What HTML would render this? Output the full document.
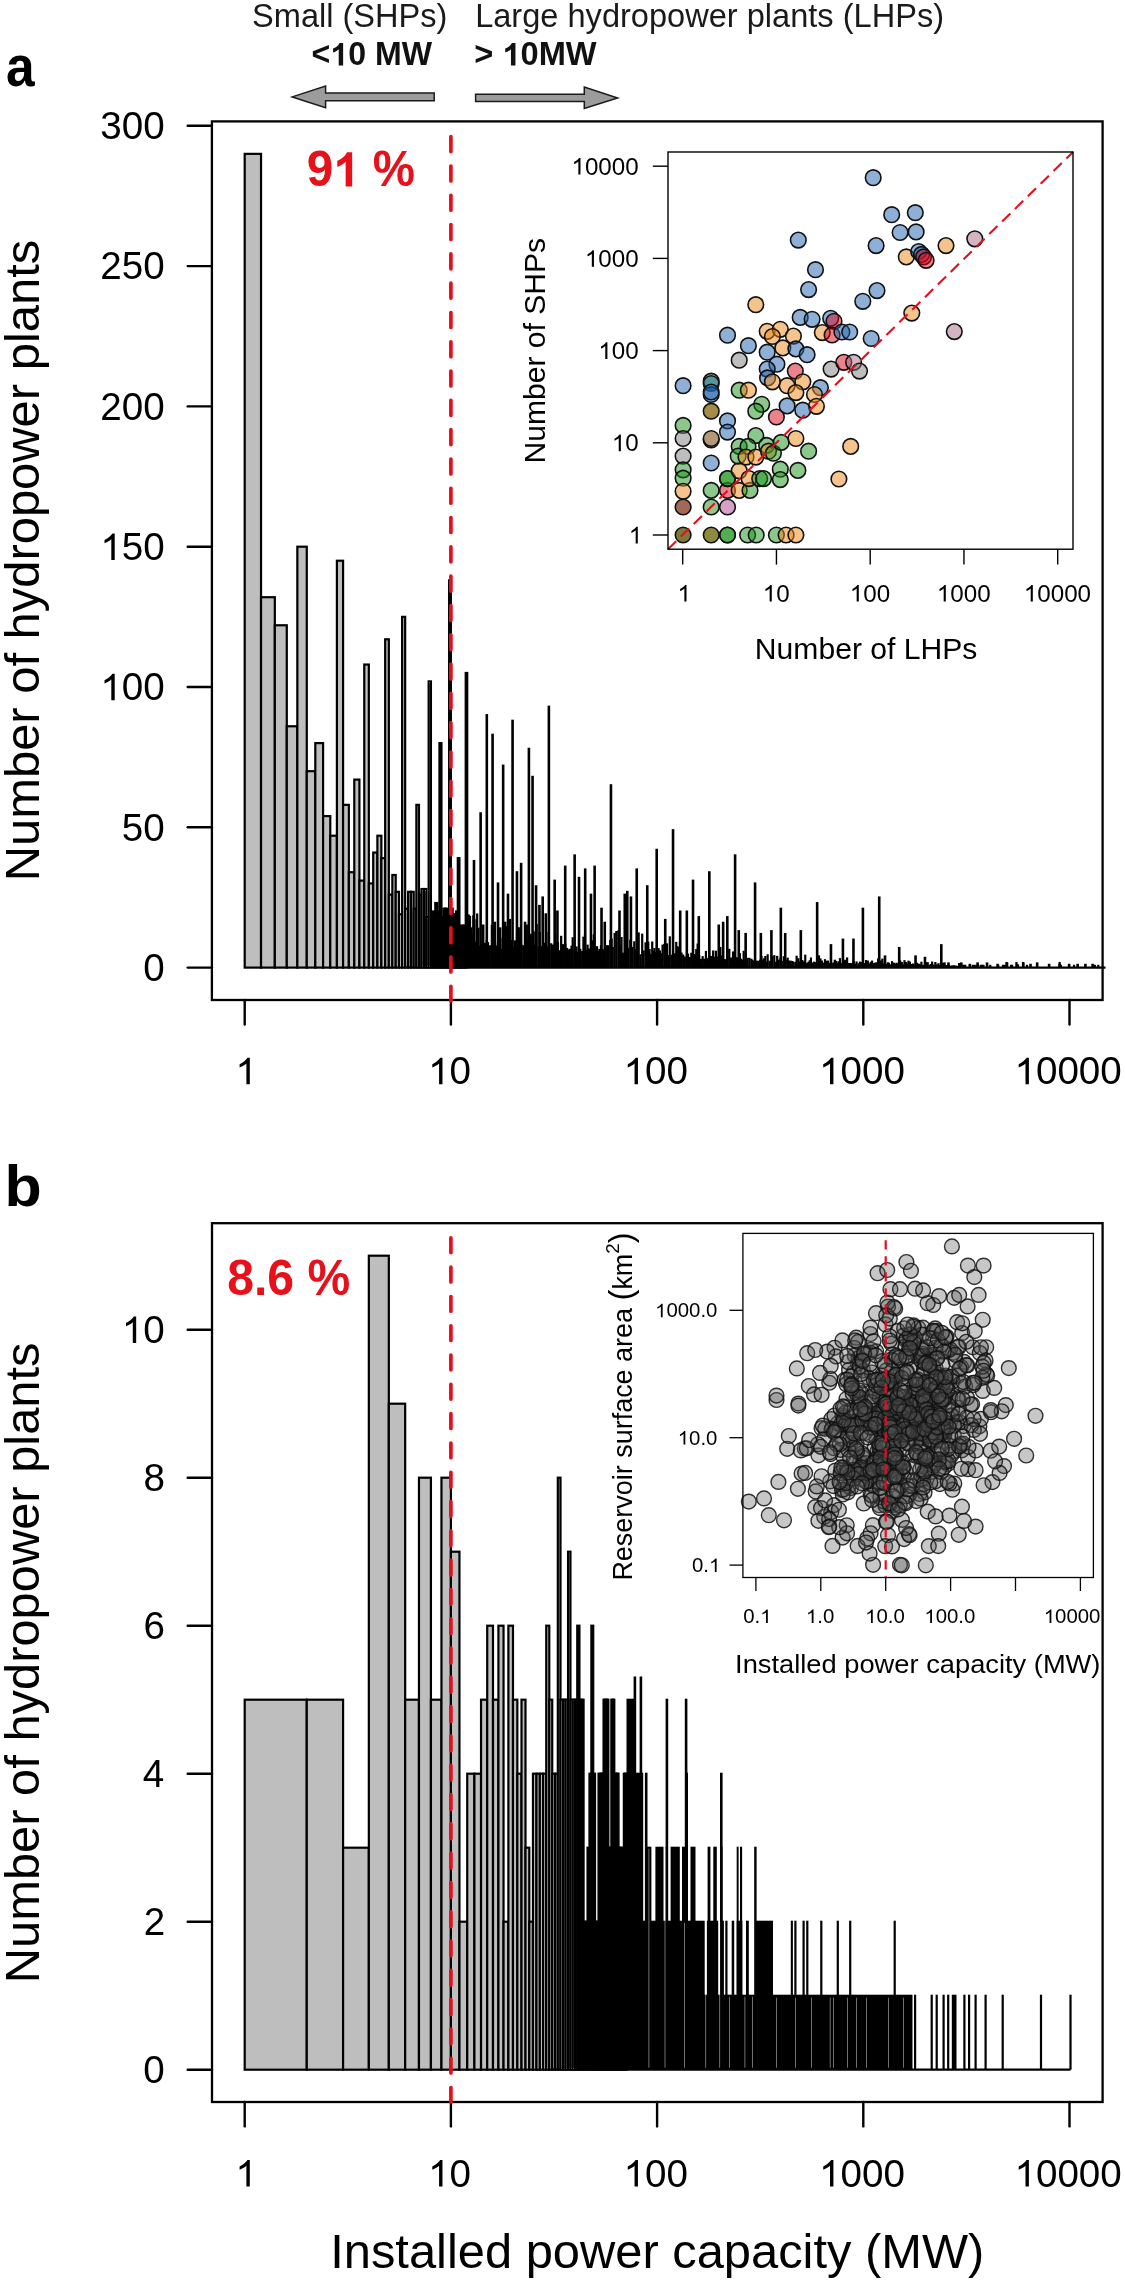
<!DOCTYPE html><html><head><meta charset="utf-8"><title>Hydropower plants</title><style>html,body{margin:0;padding:0;background:#fff}svg{display:block;will-change:transform}</style></head><body><svg width="1125" height="2280" viewBox="0 0 1125 2280" font-family="Liberation Sans, sans-serif">
<rect width="1125" height="2280" fill="#fff"/>
<g fill="#bebebe" stroke="#000" stroke-width="2.2"><rect x="244.7" y="153.86" width="16.33" height="813.74"/><rect x="261.03" y="597.21" width="13.8" height="370.39"/><rect x="274.83" y="625.27" width="11.96" height="342.33"/><rect x="286.79" y="726.28" width="10.55" height="241.32"/><rect x="297.34" y="546.7" width="9.44" height="420.9"/><rect x="306.77" y="771.18" width="8.54" height="196.42"/><rect x="315.31" y="743.12" width="7.79" height="224.48"/><rect x="323.1" y="816.08" width="7.17" height="151.52"/><rect x="330.27" y="835.72" width="6.64" height="131.88"/><rect x="336.9" y="560.73" width="6.18" height="406.87"/><rect x="343.08" y="804.85" width="5.78" height="162.75"/><rect x="348.86" y="872.2" width="5.43" height="95.4"/><rect x="354.29" y="779.6" width="5.12" height="188"/><rect x="359.41" y="880.61" width="4.84" height="86.99"/><rect x="364.25" y="664.55" width="4.59" height="303.05"/><rect x="368.84" y="883.42" width="4.37" height="84.18"/><rect x="373.21" y="852.55" width="4.17" height="115.05"/><rect x="377.38" y="835.72" width="3.98" height="131.88"/><rect x="381.36" y="858.17" width="3.81" height="109.43"/><rect x="385.17" y="639.3" width="3.66" height="328.3"/><rect x="388.83" y="894.64" width="3.51" height="72.96"/><rect x="392.34" y="875" width="3.38" height="92.6"/><rect x="395.72" y="891.84" width="3.26" height="75.76"/><rect x="398.98" y="914.29" width="3.14" height="53.31"/><rect x="402.12" y="616.85" width="3.04" height="350.75"/><rect x="405.15" y="908.67" width="2.94" height="58.93"/><rect x="408.09" y="891.84" width="2.84" height="75.76"/><rect x="410.93" y="891.84" width="2.76" height="75.76"/><rect x="413.69" y="908.67" width="2.67" height="58.93"/><rect x="416.36" y="804.85" width="2.6" height="162.75"/><rect x="418.96" y="894.64" width="2.52" height="72.96"/><rect x="421.48" y="889.03" width="2.45" height="78.57"/><rect x="423.94" y="889.03" width="2.39" height="78.57"/><rect x="426.32" y="917.09" width="2.33" height="50.51"/><rect x="428.65" y="681.39" width="2.27" height="286.21"/><rect x="430.92" y="917.09" width="2.21" height="50.51"/><rect x="433.13" y="911.48" width="2.16" height="56.12"/><rect x="435.29" y="903.06" width="2.11" height="64.54"/><rect x="437.39" y="911.48" width="2.06" height="56.12"/><rect x="439.45" y="743.12" width="2.01" height="224.48"/><rect x="441.46" y="917.09" width="1.97" height="50.51"/><rect x="443.43" y="908.67" width="1.93" height="58.93"/><rect x="445.36" y="908.67" width="1.89" height="58.93"/><rect x="447.24" y="919.9" width="1.85" height="47.7"/><rect x="449.09" y="580.37" width="1.81" height="387.23"/><rect x="450.9" y="908.67" width="1.77" height="58.93"/><rect x="452.67" y="914.29" width="1.74" height="53.31"/><rect x="454.41" y="922.7" width="1.71" height="44.9"/><rect x="456.12" y="911.48" width="1.67" height="56.12"/><rect x="457.79" y="858.17" width="1.64" height="109.43"/><rect x="459.44" y="931.12" width="1.61" height="36.48"/><rect x="461.05" y="925.51" width="1.59" height="42.09"/><rect x="462.63" y="931.12" width="1.56" height="36.48"/><rect x="464.19" y="925.51" width="1.53" height="42.09"/><rect x="465.72" y="672.97" width="1.51" height="294.63"/></g>
<g fill="#000"><rect x="465.9" y="942.85" width="2.2" height="24.75"/><rect x="467.55" y="914.41" width="2.2" height="53.19"/><rect x="468.92" y="915.77" width="2.2" height="51.83"/><rect x="469.95" y="945.09" width="2.2" height="22.51"/><rect x="471.04" y="934.64" width="2.2" height="32.96"/><rect x="472.17" y="915.32" width="2.2" height="52.28"/><rect x="474.12" y="941.66" width="2.2" height="25.94"/><rect x="476.09" y="913.43" width="2.2" height="54.17"/><rect x="477.38" y="927.66" width="2.2" height="39.94"/><rect x="478.69" y="945.85" width="2.2" height="21.75"/><rect x="480.27" y="943.54" width="2.2" height="24.06"/><rect x="481.82" y="929.8" width="2.2" height="37.8"/><rect x="483.03" y="943.05" width="2.2" height="24.55"/><rect x="484.34" y="942.84" width="2.2" height="24.76"/><rect x="485.64" y="939.84" width="2.2" height="27.76"/><rect x="486.88" y="942.14" width="2.2" height="25.46"/><rect x="488.76" y="945.26" width="2.2" height="22.34"/><rect x="490.74" y="924.79" width="2.2" height="42.81"/><rect x="492.5" y="923.84" width="2.2" height="43.76"/><rect x="493.54" y="939.76" width="2.2" height="27.84"/><rect x="495.11" y="945.43" width="2.2" height="22.17"/><rect x="496.8" y="942.32" width="2.2" height="25.28"/><rect x="498.26" y="938.04" width="2.2" height="29.56"/><rect x="499.73" y="948.82" width="2.2" height="18.78"/><rect x="501.44" y="937.78" width="2.2" height="29.82"/><rect x="503.26" y="927.13" width="2.2" height="40.47"/><rect x="504.93" y="926.14" width="2.2" height="41.46"/><rect x="506.09" y="932.83" width="2.2" height="34.77"/><rect x="507.86" y="930.02" width="2.2" height="37.58"/><rect x="509.25" y="949.22" width="2.2" height="18.38"/><rect x="510.7" y="940.03" width="2.2" height="27.57"/><rect x="512.52" y="947.16" width="2.2" height="20.44"/><rect x="513.94" y="940.34" width="2.2" height="27.26"/><rect x="515.9" y="932.22" width="2.2" height="35.38"/><rect x="517.13" y="927.58" width="2.2" height="40.02"/><rect x="518.72" y="935.25" width="2.2" height="32.35"/><rect x="520.14" y="944.48" width="2.2" height="23.12"/><rect x="522.09" y="945.16" width="2.2" height="22.44"/><rect x="523.71" y="950.37" width="2.2" height="17.23"/><rect x="525.61" y="941.4" width="2.2" height="26.2"/><rect x="527.4" y="946.74" width="2.2" height="20.86"/><rect x="528.51" y="950.49" width="2.2" height="17.11"/><rect x="529.57" y="933.75" width="2.2" height="33.85"/><rect x="530.91" y="936.3" width="2.2" height="31.3"/><rect x="532.07" y="930.97" width="2.2" height="36.63"/><rect x="533.09" y="944.71" width="2.2" height="22.89"/><rect x="534.24" y="931.41" width="2.2" height="36.19"/><rect x="535.6" y="924.12" width="2.2" height="43.48"/><rect x="537.6" y="946.37" width="2.2" height="21.23"/><rect x="538.68" y="931.9" width="2.2" height="35.7"/><rect x="539.95" y="949.93" width="2.2" height="17.67"/><rect x="540.97" y="946.09" width="2.2" height="21.51"/><rect x="542.12" y="951.46" width="2.2" height="16.14"/><rect x="543.65" y="942.72" width="2.2" height="24.88"/><rect x="545.34" y="932.18" width="2.2" height="35.42"/><rect x="546.51" y="946.36" width="2.2" height="21.24"/><rect x="548.29" y="949.68" width="2.2" height="17.92"/><rect x="550.1" y="943.25" width="2.2" height="24.35"/><rect x="551.91" y="944.53" width="2.2" height="23.07"/><rect x="553.13" y="948.56" width="2.2" height="19.04"/><rect x="554.16" y="934.24" width="2.2" height="33.36"/><rect x="555.42" y="942.55" width="2.2" height="25.05"/><rect x="556.87" y="942.32" width="2.2" height="25.28"/><rect x="558.82" y="950.22" width="2.2" height="17.38"/><rect x="560.05" y="935.79" width="2.2" height="31.81"/><rect x="561.67" y="944.09" width="2.2" height="23.51"/><rect x="563.15" y="944.56" width="2.2" height="23.04"/><rect x="564.24" y="943.51" width="2.2" height="24.09"/><rect x="566.02" y="947.9" width="2.2" height="19.7"/><rect x="567.2" y="949.39" width="2.2" height="18.21"/><rect x="569" y="948.83" width="2.2" height="18.77"/><rect x="570.4" y="945.63" width="2.2" height="21.97"/><rect x="571.57" y="937.23" width="2.2" height="30.37"/><rect x="573.48" y="951.44" width="2.2" height="16.16"/><rect x="575.3" y="946.5" width="2.2" height="21.1"/><rect x="576.65" y="951.69" width="2.2" height="15.91"/><rect x="577.67" y="946.68" width="2.2" height="20.92"/><rect x="579.19" y="948.84" width="2.2" height="18.76"/><rect x="581.06" y="951.06" width="2.2" height="16.54"/><rect x="582.32" y="936.69" width="2.2" height="30.91"/><rect x="583.9" y="934.43" width="2.2" height="33.17"/><rect x="585.03" y="949.83" width="2.2" height="17.77"/><rect x="586.49" y="944.62" width="2.2" height="22.98"/><rect x="587.91" y="948.52" width="2.2" height="19.08"/><rect x="589.44" y="953.17" width="2.2" height="14.43"/><rect x="590.88" y="940.31" width="2.2" height="27.29"/><rect x="592.68" y="934.32" width="2.2" height="33.28"/><rect x="594.41" y="950.43" width="2.2" height="17.17"/><rect x="595.93" y="946.19" width="2.2" height="21.41"/><rect x="597.03" y="951.25" width="2.2" height="16.35"/><rect x="598.31" y="948.87" width="2.2" height="18.73"/><rect x="599.87" y="945.18" width="2.2" height="22.42"/><rect x="601.32" y="949.03" width="2.2" height="18.57"/><rect x="602.83" y="949.58" width="2.2" height="18.02"/><rect x="604.36" y="945.15" width="2.2" height="22.45"/><rect x="606.06" y="945.24" width="2.2" height="22.36"/><rect x="607.32" y="945.3" width="2.2" height="22.3"/><rect x="609.16" y="939.96" width="2.2" height="27.64"/><rect x="610.6" y="938.58" width="2.2" height="29.02"/><rect x="611.68" y="946.98" width="2.2" height="20.62"/><rect x="613.57" y="932.91" width="2.2" height="34.69"/><rect x="615.23" y="931.01" width="2.2" height="36.59"/><rect x="617.2" y="930.33" width="2.2" height="37.27"/><rect x="618.6" y="945.51" width="2.2" height="22.09"/><rect x="620.43" y="936.97" width="2.2" height="30.63"/><rect x="621.95" y="952.68" width="2.2" height="14.92"/><rect x="623.26" y="954.28" width="2.2" height="13.32"/><rect x="624.82" y="954.34" width="2.2" height="13.26"/><rect x="626.15" y="950.08" width="2.2" height="17.52"/><rect x="627.21" y="947.74" width="2.2" height="19.86"/><rect x="629.19" y="939.62" width="2.2" height="27.98"/><rect x="630.23" y="952.35" width="2.2" height="15.25"/><rect x="631.36" y="946.89" width="2.2" height="20.71"/><rect x="633.17" y="941.27" width="2.2" height="26.33"/><rect x="635.09" y="948.89" width="2.2" height="18.71"/><rect x="636.18" y="935.2" width="2.2" height="32.4"/><rect x="637.61" y="932.42" width="2.2" height="35.18"/><rect x="639.24" y="954.28" width="2.2" height="13.32"/><rect x="641.1" y="933.61" width="2.2" height="33.99"/><rect x="642.55" y="950.49" width="2.2" height="17.11"/><rect x="644.48" y="942.28" width="2.2" height="25.32"/><rect x="646.01" y="942.61" width="2.2" height="24.99"/><rect x="647.17" y="941.65" width="2.2" height="25.95"/><rect x="648.48" y="949.07" width="2.2" height="18.53"/><rect x="649.77" y="953.91" width="2.2" height="13.69"/><rect x="651.12" y="941.49" width="2.2" height="26.11"/><rect x="652.13" y="951.04" width="2.2" height="16.56"/><rect x="653.32" y="948.05" width="2.2" height="19.55"/><rect x="654.43" y="952.17" width="2.2" height="15.43"/><rect x="655.92" y="952.59" width="2.2" height="15.01"/><rect x="657.43" y="948.05" width="2.2" height="19.55"/><rect x="658.77" y="950.33" width="2.2" height="17.27"/><rect x="660.41" y="953.26" width="2.2" height="14.34"/><rect x="661.46" y="944.64" width="2.2" height="22.96"/><rect x="663.2" y="943.86" width="2.2" height="23.74"/><rect x="664.29" y="949.54" width="2.2" height="18.06"/><rect x="665.96" y="943.36" width="2.2" height="24.24"/><rect x="667.25" y="955.16" width="2.2" height="12.44"/><rect x="668.7" y="936.32" width="2.2" height="31.28"/><rect x="670.67" y="954.73" width="2.2" height="12.87"/><rect x="672.64" y="954.04" width="2.2" height="13.56"/><rect x="673.64" y="953.25" width="2.2" height="14.35"/><rect x="675.14" y="941.86" width="2.2" height="25.74"/><rect x="676.14" y="946.09" width="2.2" height="21.51"/><rect x="677.54" y="946.9" width="2.2" height="20.7"/><rect x="678.85" y="941.57" width="2.2" height="26.03"/><rect x="680.38" y="952.54" width="2.2" height="15.06"/><rect x="682.09" y="954.61" width="2.2" height="12.99"/><rect x="683.42" y="956.4" width="2.2" height="11.2"/><rect x="685.14" y="957.28" width="2.2" height="10.32"/><rect x="686.98" y="953.62" width="2.2" height="13.98"/><rect x="688.71" y="957" width="2.2" height="10.6"/><rect x="690.24" y="952.72" width="2.2" height="14.88"/><rect x="692.04" y="954.55" width="2.2" height="13.05"/><rect x="693.93" y="954.13" width="2.2" height="13.47"/><rect x="695.16" y="949.05" width="2.2" height="18.55"/><rect x="696.52" y="943.52" width="2.2" height="24.08"/><rect x="698.08" y="955.08" width="2.2" height="12.52"/><rect x="699.76" y="958.88" width="2.2" height="8.72"/><rect x="701.56" y="956.12" width="2.2" height="11.48"/><rect x="703.1" y="958.72" width="2.2" height="8.88"/><rect x="704.83" y="950.92" width="2.2" height="16.68"/><rect x="706.1" y="958.13" width="2.2" height="9.47"/><rect x="707.84" y="956.66" width="2.2" height="10.94"/><rect x="709.22" y="955.74" width="2.2" height="11.86"/><rect x="710.99" y="956.11" width="2.2" height="11.49"/><rect x="712.07" y="950.45" width="2.2" height="17.15"/><rect x="713.81" y="956.74" width="2.2" height="10.86"/><rect x="714.82" y="950.69" width="2.2" height="16.91"/><rect x="716.49" y="956.41" width="2.2" height="11.19"/><rect x="717.78" y="957.59" width="2.2" height="10.01"/><rect x="719.25" y="946.93" width="2.2" height="20.67"/><rect x="720.45" y="955.44" width="2.2" height="12.16"/><rect x="721.47" y="956.12" width="2.2" height="11.48"/><rect x="723.44" y="958.98" width="2.2" height="8.62"/><rect x="724.65" y="959.35" width="2.2" height="8.25"/><rect x="726.23" y="950.47" width="2.2" height="17.13"/><rect x="728.18" y="948.84" width="2.2" height="18.76"/><rect x="729.69" y="957.41" width="2.2" height="10.19"/><rect x="730.92" y="958.51" width="2.2" height="9.09"/><rect x="731.94" y="951.48" width="2.2" height="16.12"/><rect x="733.4" y="960.25" width="2.2" height="7.35"/><rect x="734.74" y="957.24" width="2.2" height="10.36"/><rect x="735.74" y="957.33" width="2.2" height="10.27"/><rect x="736.86" y="957.98" width="2.2" height="9.62"/><rect x="738.76" y="953.14" width="2.2" height="14.46"/><rect x="740.16" y="958.75" width="2.2" height="8.85"/><rect x="741.52" y="960.13" width="2.2" height="7.47"/><rect x="742.56" y="950.77" width="2.2" height="16.83"/><rect x="743.85" y="960.33" width="2.2" height="7.27"/><rect x="745.12" y="960.63" width="2.2" height="6.97"/><rect x="746.49" y="957.84" width="2.2" height="9.76"/><rect x="748.3" y="957.82" width="2.2" height="9.78"/><rect x="750.24" y="958.7" width="2.2" height="8.9"/><rect x="751.29" y="959.82" width="2.2" height="7.78"/><rect x="753.04" y="960.55" width="2.2" height="7.05"/><rect x="754.09" y="961.21" width="2.2" height="6.39"/><rect x="755.57" y="960.6" width="2.2" height="7"/><rect x="757.3" y="960.82" width="2.2" height="6.78"/><rect x="758.96" y="959.75" width="2.2" height="7.85"/><rect x="760.35" y="955.88" width="2.2" height="11.72"/><rect x="761.56" y="960.1" width="2.2" height="7.5"/><rect x="762.78" y="958.29" width="2.2" height="9.31"/><rect x="764.23" y="955.99" width="2.2" height="11.61"/><rect x="765.32" y="961.76" width="2.2" height="5.84"/><rect x="766.56" y="954.27" width="2.2" height="13.33"/><rect x="768.45" y="960.71" width="2.2" height="6.89"/><rect x="769.86" y="960.9" width="2.2" height="6.7"/><rect x="771.2" y="956.07" width="2.2" height="11.53"/><rect x="773.17" y="955.13" width="2.2" height="12.47"/><rect x="774.8" y="961.66" width="2.2" height="5.94"/><rect x="776.07" y="955.85" width="2.2" height="11.75"/><rect x="777.52" y="959.62" width="2.2" height="7.98"/><rect x="779.39" y="957.79" width="2.2" height="9.81"/><rect x="781.1" y="961" width="2.2" height="6.6"/><rect x="782.69" y="956.25" width="2.2" height="11.35"/><rect x="784.61" y="959.82" width="2.2" height="7.78"/><rect x="786.58" y="957.68" width="2.2" height="9.92"/><rect x="787.74" y="960.47" width="2.2" height="7.13"/><rect x="789.68" y="960.63" width="2.2" height="6.97"/><rect x="791.45" y="960.98" width="2.2" height="6.62"/><rect x="792.48" y="962.03" width="2.2" height="5.57"/><rect x="794.4" y="961.84" width="2.2" height="5.76"/><rect x="795.53" y="955.67" width="2.2" height="11.93"/><rect x="797.23" y="958.21" width="2.2" height="9.39"/><rect x="798.76" y="961.66" width="2.2" height="5.94"/><rect x="799.98" y="962.87" width="2.2" height="4.73"/><rect x="801.28" y="959.94" width="2.2" height="7.66"/><rect x="802.93" y="961.48" width="2.2" height="6.12"/><rect x="804.16" y="954.66" width="2.2" height="12.94"/><rect x="805.86" y="962.94" width="2.2" height="4.66"/><rect x="807.36" y="961.75" width="2.2" height="5.85"/><rect x="808.62" y="960.24" width="2.2" height="7.36"/><rect x="809.85" y="957.51" width="2.2" height="10.09"/><rect x="811.27" y="962.5" width="2.2" height="5.1"/><rect x="813.06" y="961.62" width="2.2" height="5.98"/><rect x="814.27" y="962.22" width="2.2" height="5.38"/><rect x="816.09" y="958.22" width="2.2" height="9.38"/><rect x="817.85" y="955.34" width="2.2" height="12.26"/><rect x="819.35" y="958.33" width="2.2" height="9.27"/><rect x="820.76" y="960.51" width="2.2" height="7.09"/><rect x="821.91" y="962.66" width="2.2" height="4.94"/><rect x="823.88" y="959.17" width="2.2" height="8.43"/><rect x="824.94" y="960.76" width="2.2" height="6.84"/><rect x="826.83" y="960.53" width="2.2" height="7.07"/><rect x="828.76" y="962.87" width="2.2" height="4.73"/><rect x="830.7" y="963.33" width="2.2" height="4.27"/><rect x="832.36" y="962.41" width="2.2" height="5.19"/><rect x="833.69" y="959.68" width="2.2" height="7.92"/><rect x="834.97" y="960.88" width="2.2" height="6.72"/><rect x="836.09" y="962.95" width="2.2" height="4.65"/><rect x="837.45" y="961.31" width="2.2" height="6.29"/><rect x="838.88" y="958.1" width="2.2" height="9.5"/><rect x="840.26" y="963.07" width="2.2" height="4.53"/><rect x="841.62" y="963.52" width="2.2" height="4.08"/><rect x="843.03" y="961.6" width="2.2" height="6"/><rect x="844.07" y="959.8" width="2.2" height="7.8"/><rect x="845.99" y="957.4" width="2.2" height="10.2"/><rect x="847.89" y="963" width="2.2" height="4.6"/><rect x="849.85" y="963.07" width="2.2" height="4.53"/><rect x="851.57" y="963.07" width="2.2" height="4.53"/><rect x="852.57" y="961.46" width="2.2" height="6.14"/><rect x="854.2" y="963.76" width="2.2" height="3.84"/><rect x="855.44" y="961.44" width="2.2" height="6.16"/><rect x="857.39" y="963.25" width="2.2" height="4.35"/><rect x="858.82" y="961.6" width="2.2" height="6"/><rect x="860" y="962.1" width="2.2" height="5.5"/><rect x="861.83" y="962.47" width="2.2" height="5.13"/><rect x="863.15" y="963.09" width="2.2" height="4.51"/><rect x="864.94" y="960.04" width="2.2" height="7.56"/><rect x="866.69" y="960.54" width="2.2" height="7.06"/><rect x="867.72" y="963.27" width="2.2" height="4.33"/><rect x="869.7" y="961.76" width="2.2" height="5.84"/><rect x="870.97" y="960.58" width="2.2" height="7.02"/><rect x="872.47" y="963.09" width="2.2" height="4.51"/><rect x="873.7" y="962.72" width="2.2" height="4.88"/><rect x="875.37" y="962.24" width="2.2" height="5.36"/><rect x="877.04" y="958.47" width="2.2" height="9.13"/><rect x="878.33" y="963.38" width="2.2" height="4.22"/><rect x="880.07" y="960.44" width="2.2" height="7.16"/><rect x="881.32" y="958.57" width="2.2" height="9.03"/><rect x="882.89" y="963.46" width="2.2" height="4.14"/><rect x="884.89" y="963.87" width="2.2" height="3.73"/><rect x="886.7" y="962.3" width="2.2" height="5.3"/><rect x="887.8" y="962.7" width="2.2" height="4.9"/><rect x="889.64" y="964.39" width="2.2" height="3.21"/><rect x="890.93" y="961.13" width="2.2" height="6.47"/><rect x="892.91" y="962.65" width="2.2" height="4.95"/><rect x="894.28" y="963.67" width="2.2" height="3.93"/><rect x="895.54" y="962.72" width="2.2" height="4.88"/><rect x="896.64" y="963.4" width="2.2" height="4.2"/><rect x="897.86" y="964.38" width="2.2" height="3.22"/><rect x="899.06" y="960.41" width="2.2" height="7.19"/><rect x="900.72" y="962.05" width="2.2" height="5.55"/><rect x="902.04" y="964.4" width="2.2" height="3.2"/><rect x="903.36" y="960.14" width="2.2" height="7.46"/><rect x="904.9" y="962.01" width="2.2" height="5.59"/><rect x="906.3" y="963.68" width="2.2" height="3.92"/><rect x="907.39" y="960.63" width="2.2" height="6.97"/><rect x="908.8" y="961.67" width="2.2" height="5.93"/><rect x="910.75" y="963.95" width="2.2" height="3.65"/><rect x="912.11" y="963.47" width="2.2" height="4.13"/><rect x="914.11" y="964.68" width="2.2" height="2.92"/><rect x="915.84" y="962.72" width="2.2" height="4.88"/><rect x="917.74" y="963.74" width="2.2" height="3.86"/><rect x="919.14" y="964.38" width="2.2" height="3.22"/><rect x="920.31" y="961.7" width="2.2" height="5.9"/><rect x="921.95" y="965.06" width="2.2" height="2.54"/><rect x="923.57" y="964.44" width="2.2" height="3.16"/><rect x="924.71" y="962" width="2.2" height="5.6"/><rect x="926.64" y="962.17" width="2.2" height="5.43"/><rect x="928.44" y="965.05" width="2.2" height="2.55"/><rect x="929.57" y="963.92" width="2.2" height="3.68"/><rect x="931.05" y="961.53" width="2.2" height="6.07"/><rect x="932.44" y="964.54" width="2.2" height="3.06"/><rect x="934.27" y="962" width="2.2" height="5.6"/><rect x="935.49" y="964.32" width="2.2" height="3.28"/><rect x="937.32" y="963.25" width="2.2" height="4.35"/><rect x="938.72" y="965.06" width="2.2" height="2.54"/><rect x="939.84" y="962.42" width="2.2" height="5.18"/><rect x="941.74" y="962.78" width="2.2" height="4.82"/><rect x="943.5" y="962.34" width="2.2" height="5.26"/><rect x="944.61" y="964.94" width="2.2" height="2.66"/><rect x="946.24" y="965.14" width="2.2" height="2.46"/><rect x="947.82" y="964.87" width="2.2" height="2.73"/><rect x="949.27" y="965.69" width="2.2" height="1.91"/><rect x="950.89" y="965.45" width="2.2" height="2.15"/><rect x="952.65" y="965.2" width="2.2" height="2.4"/><rect x="953.83" y="965.65" width="2.2" height="1.95"/><rect x="954.96" y="965.69" width="2.2" height="1.91"/><rect x="956.4" y="965.77" width="2.2" height="1.83"/><rect x="958.04" y="963.04" width="2.2" height="4.56"/><rect x="959.82" y="965.8" width="2.2" height="1.8"/><rect x="961.32" y="964.79" width="2.2" height="2.81"/><rect x="962.46" y="964.77" width="2.2" height="2.83"/><rect x="964.19" y="964.79" width="2.2" height="2.81"/><rect x="968.79" y="964.79" width="2.2" height="2.81"/><rect x="971.64" y="964.79" width="2.2" height="2.81"/><rect x="973.4" y="964.79" width="2.2" height="2.81"/><rect x="975.3" y="964.79" width="2.2" height="2.81"/><rect x="977.11" y="964.79" width="2.2" height="2.81"/><rect x="979.82" y="964.79" width="2.2" height="2.81"/><rect x="981.33" y="964.79" width="2.2" height="2.81"/><rect x="982.37" y="964.79" width="2.2" height="2.81"/><rect x="989.13" y="964.79" width="2.2" height="2.81"/><rect x="997.11" y="964.79" width="2.2" height="2.81"/><rect x="1001.9" y="964.79" width="2.2" height="2.81"/><rect x="1003.65" y="964.79" width="2.2" height="2.81"/><rect x="1005.47" y="961.99" width="2.2" height="5.61"/><rect x="1010.01" y="964.79" width="2.2" height="2.81"/><rect x="1011.04" y="964.79" width="2.2" height="2.81"/><rect x="1015.3" y="961.99" width="2.2" height="5.61"/><rect x="1016.95" y="964.79" width="2.2" height="2.81"/><rect x="1021.88" y="961.99" width="2.2" height="5.61"/><rect x="1025.88" y="964.79" width="2.2" height="2.81"/><rect x="1058.49" y="961.99" width="2.2" height="5.61"/><rect x="1059.73" y="964.79" width="2.2" height="2.81"/><rect x="1072.92" y="964.79" width="2.2" height="2.81"/><rect x="1093.7" y="964.79" width="2.2" height="2.81"/><rect x="1097.18" y="964.79" width="2.2" height="2.81"/><rect x="472.7" y="859.97" width="2.6" height="107.63"/><rect x="479.33" y="812.27" width="2.6" height="155.33"/><rect x="485.51" y="714.06" width="2.6" height="253.54"/><rect x="491.29" y="733.7" width="2.6" height="233.9"/><rect x="496.72" y="882.42" width="2.6" height="85.18"/><rect x="501.84" y="764.57" width="2.6" height="203.03"/><rect x="506.68" y="893.64" width="2.6" height="73.96"/><rect x="511.27" y="719.67" width="2.6" height="247.93"/><rect x="515.64" y="871.2" width="2.6" height="96.4"/><rect x="519.81" y="862.78" width="2.6" height="104.82"/><rect x="523.79" y="921.7" width="2.6" height="45.9"/><rect x="527.6" y="747.73" width="2.6" height="219.87"/><rect x="531.26" y="775.79" width="2.6" height="191.81"/><rect x="534.77" y="885.23" width="2.6" height="82.37"/><rect x="538.15" y="904.87" width="2.6" height="62.73"/><rect x="541.4" y="896.45" width="2.6" height="71.15"/><rect x="544.55" y="913.29" width="2.6" height="54.31"/><rect x="547.58" y="705.64" width="2.6" height="261.96"/><rect x="553.36" y="879.61" width="2.6" height="87.99"/><rect x="556.12" y="910.48" width="2.6" height="57.12"/><rect x="563.91" y="865.58" width="2.6" height="102.02"/><rect x="573.34" y="854.36" width="2.6" height="113.24"/><rect x="577.71" y="876.81" width="2.6" height="90.79"/><rect x="583.89" y="868.39" width="2.6" height="99.21"/><rect x="589.67" y="893.64" width="2.6" height="73.96"/><rect x="593.33" y="865.58" width="2.6" height="102.02"/><rect x="600.22" y="907.67" width="2.6" height="59.93"/><rect x="603.48" y="921.7" width="2.6" height="45.9"/><rect x="609.65" y="784.21" width="2.6" height="183.39"/><rect x="618.19" y="910.48" width="2.6" height="57.12"/><rect x="623.46" y="893.64" width="2.6" height="73.96"/><rect x="625.98" y="890.84" width="2.6" height="76.76"/><rect x="629.64" y="896.45" width="2.6" height="71.15"/><rect x="635.42" y="868.39" width="2.6" height="99.21"/><rect x="645.96" y="885.23" width="2.6" height="82.37"/><rect x="655.4" y="848.75" width="2.6" height="118.85"/><rect x="663.94" y="918.9" width="2.6" height="48.7"/><rect x="671.73" y="829.11" width="2.6" height="138.49"/><rect x="678.9" y="910.48" width="2.6" height="57.12"/><rect x="685.53" y="910.48" width="2.6" height="57.12"/><rect x="691.71" y="879.61" width="2.6" height="87.99"/><rect x="697.49" y="916.09" width="2.6" height="51.51"/><rect x="708.04" y="871.2" width="2.6" height="96.4"/><rect x="717.47" y="924.51" width="2.6" height="43.09"/><rect x="721.84" y="921.7" width="2.6" height="45.9"/><rect x="726.01" y="916.09" width="2.6" height="51.51"/><rect x="733.8" y="854.36" width="2.6" height="113.24"/><rect x="737.46" y="930.12" width="2.6" height="37.48"/><rect x="744.35" y="932.93" width="2.6" height="34.67"/><rect x="753.78" y="882.42" width="2.6" height="85.18"/><rect x="759.56" y="932.93" width="2.6" height="34.67"/><rect x="770.11" y="930.12" width="2.6" height="37.48"/><rect x="779.54" y="907.67" width="2.6" height="59.93"/><rect x="783.91" y="932.93" width="2.6" height="34.67"/><rect x="799.53" y="930.12" width="2.6" height="37.48"/><rect x="815.85" y="902.06" width="2.6" height="65.54"/><rect x="829.66" y="944.15" width="2.6" height="23.45"/><rect x="841.62" y="938.54" width="2.6" height="29.06"/><rect x="852.16" y="938.54" width="2.6" height="29.06"/><rect x="861.6" y="907.67" width="2.6" height="59.93"/><rect x="877.93" y="896.45" width="2.6" height="71.15"/><rect x="883.71" y="955.38" width="2.6" height="12.22"/><rect x="897.91" y="946.96" width="2.6" height="20.64"/><rect x="914.24" y="955.38" width="2.6" height="12.22"/><rect x="923.67" y="956.78" width="2.6" height="10.82"/><rect x="940" y="944.15" width="2.6" height="23.45"/><rect x="947.17" y="962.39" width="2.6" height="5.21"/><rect x="959.98" y="962.39" width="2.6" height="5.21"/><rect x="968.52" y="963.79" width="2.6" height="3.81"/><rect x="976.31" y="962.39" width="2.6" height="5.21"/><rect x="985.74" y="962.39" width="2.6" height="5.21"/><rect x="996.29" y="963.79" width="2.6" height="3.81"/><rect x="1005.73" y="962.39" width="2.6" height="5.21"/><rect x="1015.88" y="963.79" width="2.6" height="3.81"/><rect x="1022.05" y="962.39" width="2.6" height="5.21"/><rect x="1029.22" y="963.79" width="2.6" height="3.81"/><rect x="1035.86" y="962.39" width="2.6" height="5.21"/><rect x="1047.82" y="963.79" width="2.6" height="3.81"/><rect x="1058.36" y="963.79" width="2.6" height="3.81"/><rect x="1067.8" y="963.79" width="2.6" height="3.81"/><rect x="1076.34" y="963.79" width="2.6" height="3.81"/><rect x="1084.13" y="963.79" width="2.6" height="3.81"/><rect x="1091.3" y="963.79" width="2.6" height="3.81"/><rect x="469.9" y="927.32" width="2.6" height="40.28"/><rect x="475.41" y="918.9" width="2.6" height="48.7"/><rect x="481.85" y="924.51" width="2.6" height="43.09"/><rect x="493.5" y="921.7" width="2.6" height="45.9"/><rect x="498.8" y="927.32" width="2.6" height="40.28"/><rect x="503.81" y="921.7" width="2.6" height="45.9"/><rect x="508.54" y="918.9" width="2.6" height="48.7"/><rect x="517.33" y="927.32" width="2.6" height="40.28"/><rect x="525.33" y="924.51" width="2.6" height="43.09"/></g>
<line x1="467.23" y1="967.6" x2="1105.5" y2="967.6" stroke="#000" stroke-width="2.2"/>
<g fill="#bebebe" stroke="#000" stroke-width="2.2"><rect x="244.7" y="1699.7" width="62.07" height="370"/><rect x="306.77" y="1699.7" width="36.31" height="370"/><rect x="343.08" y="1847.7" width="25.76" height="222"/><rect x="368.84" y="1255.7" width="19.98" height="814"/><rect x="388.83" y="1403.7" width="16.33" height="666"/><rect x="405.15" y="1699.7" width="13.8" height="370"/><rect x="418.96" y="1477.7" width="11.96" height="592"/><rect x="430.92" y="1699.7" width="10.55" height="370"/><rect x="441.46" y="1477.7" width="9.44" height="592"/><rect x="450.9" y="1551.7" width="8.54" height="518"/><rect x="459.44" y="1921.7" width="7.79" height="148"/><rect x="467.23" y="1773.7" width="7.17" height="296"/><rect x="474.4" y="1773.7" width="6.64" height="296"/><rect x="481.03" y="1699.7" width="6.18" height="370"/><rect x="487.21" y="1625.7" width="5.78" height="444"/><rect x="492.99" y="1699.7" width="5.43" height="370"/><rect x="498.42" y="1625.7" width="5.12" height="444"/><rect x="503.54" y="1921.7" width="4.84" height="148"/><rect x="508.38" y="1625.7" width="4.59" height="444"/><rect x="512.97" y="1699.7" width="4.37" height="370"/><rect x="517.34" y="1773.7" width="4.17" height="296"/><rect x="521.51" y="1699.7" width="3.98" height="370"/><rect x="525.49" y="1847.7" width="3.81" height="222"/><rect x="529.3" y="1921.7" width="3.66" height="148"/><rect x="532.96" y="1773.7" width="3.51" height="296"/><rect x="536.47" y="1773.7" width="3.38" height="296"/><rect x="539.85" y="1773.7" width="3.26" height="296"/><rect x="543.1" y="1773.7" width="3.14" height="296"/><rect x="546.25" y="1625.7" width="3.04" height="444"/><rect x="549.28" y="1699.7" width="2.94" height="370"/><rect x="552.22" y="1773.7" width="2.84" height="296"/><rect x="555.06" y="1773.7" width="2.76" height="296"/><rect x="557.82" y="1477.7" width="2.67" height="592"/><rect x="560.49" y="1699.7" width="2.6" height="370"/><rect x="563.09" y="1699.7" width="2.52" height="370"/><rect x="565.61" y="1699.7" width="2.45" height="370"/><rect x="568.06" y="1551.7" width="2.39" height="518"/><rect x="570.45" y="1699.7" width="2.33" height="370"/><rect x="572.78" y="1699.7" width="2.27" height="370"/><rect x="575.04" y="1699.7" width="2.21" height="370"/><rect x="577.26" y="1625.7" width="2.16" height="444"/><rect x="579.41" y="1699.7" width="2.11" height="370"/><rect x="581.52" y="1699.7" width="2.06" height="370"/><rect x="583.58" y="1921.7" width="2.01" height="148"/><rect x="585.59" y="1921.7" width="1.97" height="148"/><rect x="587.56" y="1847.7" width="1.93" height="222"/><rect x="589.49" y="1773.7" width="1.89" height="296"/><rect x="591.37" y="1625.7" width="1.85" height="444"/><rect x="593.22" y="1773.7" width="1.81" height="296"/><rect x="595.03" y="1921.7" width="1.77" height="148"/><rect x="596.8" y="1921.7" width="1.74" height="148"/><rect x="598.54" y="1773.7" width="1.71" height="296"/><rect x="600.25" y="1773.7" width="1.67" height="296"/><rect x="601.92" y="1773.7" width="1.64" height="296"/><rect x="603.56" y="1699.7" width="1.61" height="370"/><rect x="605.18" y="1699.7" width="1.59" height="370"/><rect x="606.76" y="1699.7" width="1.56" height="370"/><rect x="608.32" y="1847.7" width="1.53" height="222"/><rect x="609.85" y="1847.7" width="1.51" height="222"/><rect x="611.35" y="1699.7" width="1.48" height="370"/><rect x="612.84" y="1699.7" width="1.46" height="370"/><rect x="614.29" y="1773.7" width="1.43" height="296"/><rect x="615.72" y="1773.7" width="1.41" height="296"/><rect x="617.13" y="1773.7" width="1.39" height="296"/><rect x="618.52" y="1847.7" width="1.37" height="222"/><rect x="619.89" y="1847.7" width="1.35" height="222"/><rect x="621.24" y="1921.7" width="1.33" height="148"/><rect x="622.56" y="1847.7" width="1.31" height="222"/><rect x="623.87" y="1773.7" width="1.29" height="296"/><rect x="625.16" y="1773.7" width="1.27" height="296"/></g>
<g fill="#000"><rect x="633.6" y="1676.5" width="2.6" height="393.2"/><rect x="639.6" y="1676.5" width="2.6" height="393.2"/><rect x="626.5" y="1698.7" width="9.5" height="371"/><rect x="665.6" y="1698.7" width="2.6" height="371"/><rect x="684.8" y="1698.7" width="2.6" height="371"/><rect x="626.5" y="1772.7" width="16.7" height="297"/><rect x="644.9" y="1772.7" width="2.6" height="297"/><rect x="685.9" y="1772.7" width="2.1" height="297"/><rect x="720" y="1772.7" width="2.6" height="297"/><rect x="626.5" y="1846.7" width="16.3" height="223"/><rect x="645.7" y="1846.7" width="5.7" height="223"/><rect x="655.4" y="1846.7" width="8.1" height="223"/><rect x="665.6" y="1846.7" width="2.1" height="223"/><rect x="670.6" y="1846.7" width="9.2" height="223"/><rect x="682" y="1846.7" width="5" height="223"/><rect x="690.5" y="1846.7" width="5" height="223"/><rect x="707.6" y="1846.7" width="2.8" height="223"/><rect x="713.3" y="1846.7" width="3.5" height="223"/><rect x="720.4" y="1846.7" width="2.1" height="223"/><rect x="736.7" y="1846.7" width="1.9" height="223"/><rect x="740" y="1846.7" width="2.1" height="223"/><rect x="754.2" y="1846.7" width="2.4" height="223"/><rect x="626.5" y="1920.7" width="78.2" height="149"/><rect x="706.9" y="1920.7" width="11.3" height="149"/><rect x="720.4" y="1920.7" width="3.5" height="149"/><rect x="725.3" y="1920.7" width="2.2" height="149"/><rect x="731.7" y="1920.7" width="2.5" height="149"/><rect x="736.7" y="1920.7" width="5.7" height="149"/><rect x="746" y="1920.7" width="2.8" height="149"/><rect x="755.9" y="1920.7" width="17.1" height="149"/><rect x="790.8" y="1920.7" width="2.1" height="149"/><rect x="794.3" y="1920.7" width="2.2" height="149"/><rect x="802.5" y="1920.7" width="2.2" height="149"/><rect x="806.2" y="1920.7" width="2.2" height="149"/><rect x="820.2" y="1920.7" width="2.2" height="149"/><rect x="836.7" y="1920.7" width="2.2" height="149"/><rect x="849.1" y="1920.7" width="2.2" height="149"/><rect x="893.6" y="1920.7" width="2.2" height="149"/><rect x="626.5" y="1994.7" width="286" height="75"/><rect x="914" y="1994.7" width="2.2" height="75"/><rect x="930.6" y="1994.7" width="2.2" height="75"/><rect x="935.6" y="1994.7" width="2.2" height="75"/><rect x="942.5" y="1994.7" width="2.2" height="75"/><rect x="947.1" y="1994.7" width="2.2" height="75"/><rect x="951.8" y="1994.7" width="4.7" height="75"/><rect x="963.3" y="1994.7" width="2.2" height="75"/><rect x="968" y="1994.7" width="2.2" height="75"/><rect x="974.5" y="1994.7" width="2.2" height="75"/><rect x="984.5" y="1994.7" width="2.2" height="75"/><rect x="1001.6" y="1994.7" width="2.2" height="75"/><rect x="1039.9" y="1994.7" width="2.2" height="75"/><rect x="1069.4" y="1994.7" width="2.2" height="75"/></g>
<g fill="#fff" opacity="0.55"><rect x="776" y="1997.7" width="0.8" height="70"/><rect x="795" y="1997.7" width="0.8" height="70"/><rect x="811" y="1997.7" width="0.8" height="70"/><rect x="829.8" y="1997.7" width="0.8" height="70"/><rect x="833" y="1997.7" width="0.8" height="70"/><rect x="847" y="1997.7" width="0.8" height="70"/><rect x="856" y="1997.7" width="0.8" height="70"/><rect x="866" y="1997.7" width="0.8" height="70"/><rect x="888" y="1997.7" width="0.8" height="70"/><rect x="903" y="1997.7" width="0.8" height="70"/><rect x="648.5" y="1848.7" width="0.8" height="219"/><rect x="664.6" y="1848.7" width="0.8" height="219"/><rect x="684" y="1922.7" width="0.8" height="145"/><rect x="705.3" y="1959.7" width="0.8" height="108"/><rect x="719.3" y="1922.7" width="0.8" height="145"/><rect x="729" y="1996.7" width="0.8" height="71"/><rect x="744.5" y="1996.7" width="0.8" height="71"/><rect x="752" y="1996.7" width="0.8" height="71"/></g>
<line x1="625.16" y1="2069.7" x2="1070.5" y2="2069.7" stroke="#000" stroke-width="2.2"/>
<rect x="211.9" y="121.4" width="890.7" height="878.6" fill="none" stroke="#000" stroke-width="2.3"/>
<rect x="212" y="1223.2" width="890.6" height="878.8" fill="none" stroke="#000" stroke-width="2.3"/>
<g stroke="#000" stroke-width="2.4" stroke-linecap="round"><line x1="187.7" y1="967.6" x2="211.9" y2="967.6"/><line x1="187.7" y1="827.3" x2="211.9" y2="827.3"/><line x1="187.7" y1="687" x2="211.9" y2="687"/><line x1="187.7" y1="546.7" x2="211.9" y2="546.7"/><line x1="187.7" y1="406.4" x2="211.9" y2="406.4"/><line x1="187.7" y1="266.1" x2="211.9" y2="266.1"/><line x1="187.7" y1="125.8" x2="211.9" y2="125.8"/><line x1="244.7" y1="1000.0" x2="244.7" y2="1024.6"/><line x1="450.9" y1="1000.0" x2="450.9" y2="1024.6"/><line x1="657.1" y1="1000.0" x2="657.1" y2="1024.6"/><line x1="863.3" y1="1000.0" x2="863.3" y2="1024.6"/><line x1="1069.5" y1="1000.0" x2="1069.5" y2="1024.6"/><line x1="187.7" y1="2069.7" x2="212.0" y2="2069.7"/><line x1="187.7" y1="1921.7" x2="212.0" y2="1921.7"/><line x1="187.7" y1="1773.7" x2="212.0" y2="1773.7"/><line x1="187.7" y1="1625.7" x2="212.0" y2="1625.7"/><line x1="187.7" y1="1477.7" x2="212.0" y2="1477.7"/><line x1="187.7" y1="1329.7" x2="212.0" y2="1329.7"/><line x1="244.7" y1="2102.0" x2="244.7" y2="2126.4"/><line x1="450.9" y1="2102.0" x2="450.9" y2="2126.4"/><line x1="657.1" y1="2102.0" x2="657.1" y2="2126.4"/><line x1="863.3" y1="2102.0" x2="863.3" y2="2126.4"/><line x1="1069.5" y1="2102.0" x2="1069.5" y2="2126.4"/></g>
<line x1="450.9" y1="136.7" x2="450.9" y2="1000.8" stroke="#e20f1d" stroke-width="3.7" stroke-linecap="round" stroke-dasharray="14.9 14.4"/>
<line x1="450.9" y1="1237.9" x2="450.9" y2="2102" stroke="#e20f1d" stroke-width="3.7" stroke-linecap="round" stroke-dasharray="14.7 14.6"/>
<g transform="translate(143.24,980.9) scale(1.0000,1)"><text x="0.00" y="0" font-size="38.60" fill="#000" xml:space="preserve">0</text></g>
<g transform="translate(121.78,840.6) scale(1.0000,1)"><text x="0.00" y="0" font-size="38.60" fill="#000" xml:space="preserve">50</text></g>
<g transform="translate(100.31,700.3) scale(1.0000,1)"><path transform="translate(0.00,0) scale(38.600)" d="M0.373,0 L0.285,0 L0.285,-0.539 C0.264,-0.519 0.236,-0.499 0.201,-0.479 C0.167,-0.459 0.136,-0.444 0.109,-0.434 L0.109,-0.517 C0.158,-0.540 0.200,-0.568 0.237,-0.601 C0.273,-0.634 0.299,-0.664 0.314,-0.688 L0.373,-0.688 Z" fill="#000"/><text x="21.47" y="0" font-size="38.60" fill="#000" xml:space="preserve">00</text></g>
<g transform="translate(100.31,560) scale(1.0000,1)"><path transform="translate(0.00,0) scale(38.600)" d="M0.373,0 L0.285,0 L0.285,-0.539 C0.264,-0.519 0.236,-0.499 0.201,-0.479 C0.167,-0.459 0.136,-0.444 0.109,-0.434 L0.109,-0.517 C0.158,-0.540 0.200,-0.568 0.237,-0.601 C0.273,-0.634 0.299,-0.664 0.314,-0.688 L0.373,-0.688 Z" fill="#000"/><text x="21.47" y="0" font-size="38.60" fill="#000" xml:space="preserve">50</text></g>
<g transform="translate(100.32,419.7) scale(1.0000,1)"><text x="0.00" y="0" font-size="38.60" fill="#000" xml:space="preserve">200</text></g>
<g transform="translate(100.32,279.4) scale(1.0000,1)"><text x="0.00" y="0" font-size="38.60" fill="#000" xml:space="preserve">250</text></g>
<g transform="translate(100.32,139.1) scale(1.0000,1)"><text x="0.00" y="0" font-size="38.60" fill="#000" xml:space="preserve">300</text></g>
<g transform="translate(143.24,2083) scale(1.0000,1)"><text x="0.00" y="0" font-size="38.60" fill="#000" xml:space="preserve">0</text></g>
<g transform="translate(143.67,1935) scale(1.0000,1)"><text x="0.00" y="0" font-size="38.60" fill="#000" xml:space="preserve">2</text></g>
<g transform="translate(142.86,1787) scale(1.0000,1)"><text x="0.00" y="0" font-size="38.60" fill="#000" xml:space="preserve">4</text></g>
<g transform="translate(143.44,1639) scale(1.0000,1)"><text x="0.00" y="0" font-size="38.60" fill="#000" xml:space="preserve">6</text></g>
<g transform="translate(143.4,1491) scale(1.0000,1)"><text x="0.00" y="0" font-size="38.60" fill="#000" xml:space="preserve">8</text></g>
<g transform="translate(121.78,1343) scale(1.0000,1)"><path transform="translate(0.00,0) scale(38.600)" d="M0.373,0 L0.285,0 L0.285,-0.539 C0.264,-0.519 0.236,-0.499 0.201,-0.479 C0.167,-0.459 0.136,-0.444 0.109,-0.434 L0.109,-0.517 C0.158,-0.540 0.200,-0.568 0.237,-0.601 C0.273,-0.634 0.299,-0.664 0.314,-0.688 L0.373,-0.688 Z" fill="#000"/><text x="21.47" y="0" font-size="38.60" fill="#000" xml:space="preserve">0</text></g>
<g transform="translate(235.4,1084.2) scale(1.0000,1)"><path transform="translate(0.00,0) scale(38.600)" d="M0.373,0 L0.285,0 L0.285,-0.539 C0.264,-0.519 0.236,-0.499 0.201,-0.479 C0.167,-0.459 0.136,-0.444 0.109,-0.434 L0.109,-0.517 C0.158,-0.540 0.200,-0.568 0.237,-0.601 C0.273,-0.634 0.299,-0.664 0.314,-0.688 L0.373,-0.688 Z" fill="#000"/></g>
<g transform="translate(235.4,2186.5) scale(1.0000,1)"><path transform="translate(0.00,0) scale(38.600)" d="M0.373,0 L0.285,0 L0.285,-0.539 C0.264,-0.519 0.236,-0.499 0.201,-0.479 C0.167,-0.459 0.136,-0.444 0.109,-0.434 L0.109,-0.517 C0.158,-0.540 0.200,-0.568 0.237,-0.601 C0.273,-0.634 0.299,-0.664 0.314,-0.688 L0.373,-0.688 Z" fill="#000"/></g>
<g transform="translate(428.08,1084.2) scale(1.0000,1)"><path transform="translate(0.00,0) scale(38.600)" d="M0.373,0 L0.285,0 L0.285,-0.539 C0.264,-0.519 0.236,-0.499 0.201,-0.479 C0.167,-0.459 0.136,-0.444 0.109,-0.434 L0.109,-0.517 C0.158,-0.540 0.200,-0.568 0.237,-0.601 C0.273,-0.634 0.299,-0.664 0.314,-0.688 L0.373,-0.688 Z" fill="#000"/><text x="21.47" y="0" font-size="38.60" fill="#000" xml:space="preserve">0</text></g>
<g transform="translate(428.08,2186.5) scale(1.0000,1)"><path transform="translate(0.00,0) scale(38.600)" d="M0.373,0 L0.285,0 L0.285,-0.539 C0.264,-0.519 0.236,-0.499 0.201,-0.479 C0.167,-0.459 0.136,-0.444 0.109,-0.434 L0.109,-0.517 C0.158,-0.540 0.200,-0.568 0.237,-0.601 C0.273,-0.634 0.299,-0.664 0.314,-0.688 L0.373,-0.688 Z" fill="#000"/><text x="21.47" y="0" font-size="38.60" fill="#000" xml:space="preserve">0</text></g>
<g transform="translate(623.55,1084.2) scale(1.0000,1)"><path transform="translate(0.00,0) scale(38.600)" d="M0.373,0 L0.285,0 L0.285,-0.539 C0.264,-0.519 0.236,-0.499 0.201,-0.479 C0.167,-0.459 0.136,-0.444 0.109,-0.434 L0.109,-0.517 C0.158,-0.540 0.200,-0.568 0.237,-0.601 C0.273,-0.634 0.299,-0.664 0.314,-0.688 L0.373,-0.688 Z" fill="#000"/><text x="21.47" y="0" font-size="38.60" fill="#000" xml:space="preserve">00</text></g>
<g transform="translate(623.55,2186.5) scale(1.0000,1)"><path transform="translate(0.00,0) scale(38.600)" d="M0.373,0 L0.285,0 L0.285,-0.539 C0.264,-0.519 0.236,-0.499 0.201,-0.479 C0.167,-0.459 0.136,-0.444 0.109,-0.434 L0.109,-0.517 C0.158,-0.540 0.200,-0.568 0.237,-0.601 C0.273,-0.634 0.299,-0.664 0.314,-0.688 L0.373,-0.688 Z" fill="#000"/><text x="21.47" y="0" font-size="38.60" fill="#000" xml:space="preserve">00</text></g>
<g transform="translate(819.02,1084.2) scale(1.0000,1)"><path transform="translate(0.00,0) scale(38.600)" d="M0.373,0 L0.285,0 L0.285,-0.539 C0.264,-0.519 0.236,-0.499 0.201,-0.479 C0.167,-0.459 0.136,-0.444 0.109,-0.434 L0.109,-0.517 C0.158,-0.540 0.200,-0.568 0.237,-0.601 C0.273,-0.634 0.299,-0.664 0.314,-0.688 L0.373,-0.688 Z" fill="#000"/><text x="21.47" y="0" font-size="38.60" fill="#000" xml:space="preserve">000</text></g>
<g transform="translate(819.02,2186.5) scale(1.0000,1)"><path transform="translate(0.00,0) scale(38.600)" d="M0.373,0 L0.285,0 L0.285,-0.539 C0.264,-0.519 0.236,-0.499 0.201,-0.479 C0.167,-0.459 0.136,-0.444 0.109,-0.434 L0.109,-0.517 C0.158,-0.540 0.200,-0.568 0.237,-0.601 C0.273,-0.634 0.299,-0.664 0.314,-0.688 L0.373,-0.688 Z" fill="#000"/><text x="21.47" y="0" font-size="38.60" fill="#000" xml:space="preserve">000</text></g>
<g transform="translate(1014.49,1084.2) scale(1.0000,1)"><path transform="translate(0.00,0) scale(38.600)" d="M0.373,0 L0.285,0 L0.285,-0.539 C0.264,-0.519 0.236,-0.499 0.201,-0.479 C0.167,-0.459 0.136,-0.444 0.109,-0.434 L0.109,-0.517 C0.158,-0.540 0.200,-0.568 0.237,-0.601 C0.273,-0.634 0.299,-0.664 0.314,-0.688 L0.373,-0.688 Z" fill="#000"/><text x="21.47" y="0" font-size="38.60" fill="#000" xml:space="preserve">0000</text></g>
<g transform="translate(1014.49,2186.5) scale(1.0000,1)"><path transform="translate(0.00,0) scale(38.600)" d="M0.373,0 L0.285,0 L0.285,-0.539 C0.264,-0.519 0.236,-0.499 0.201,-0.479 C0.167,-0.459 0.136,-0.444 0.109,-0.434 L0.109,-0.517 C0.158,-0.540 0.200,-0.568 0.237,-0.601 C0.273,-0.634 0.299,-0.664 0.314,-0.688 L0.373,-0.688 Z" fill="#000"/><text x="21.47" y="0" font-size="38.60" fill="#000" xml:space="preserve">0000</text></g>
<g transform="translate(6.11,85.5) scale(0.8909,1)"><text x="0.00" y="0" font-size="57.81" font-weight="bold" fill="#000" xml:space="preserve">a</text></g>
<g transform="translate(4.38,1205.6) scale(1.0515,1)"><text x="0.00" y="0" font-size="57.93" font-weight="bold" fill="#000" xml:space="preserve">b</text></g>
<g transform="translate(252.03,26.7) scale(0.9965,1)"><text x="0.00" y="0" font-size="32.69" fill="#1a1a1a" xml:space="preserve">Small (SHPs)</text></g>
<g transform="translate(475.13,26.7) scale(0.9968,1)"><text x="0.00" y="0" font-size="32.69" fill="#1a1a1a" xml:space="preserve">Large hydropower plants (LHPs)</text></g>
<g transform="translate(311.55,65.4) scale(0.9833,1)"><text x="0.00" y="0" font-size="32.66" font-weight="bold" fill="#111" xml:space="preserve">&lt;</text><path transform="translate(19.08,0) scale(32.665)" d="M0.399,0 L0.262,0 L0.262,-0.496 C0.212,-0.449 0.153,-0.414 0.086,-0.392 L0.086,-0.516 C0.122,-0.528 0.161,-0.550 0.203,-0.582 C0.245,-0.615 0.274,-0.652 0.289,-0.688 L0.399,-0.688 Z" fill="#111"/><text x="37.24" y="0" font-size="32.66" font-weight="bold" fill="#111" xml:space="preserve">0 MW</text></g>
<g transform="translate(474.33,65.4) scale(0.9982,1)"><text x="0.00" y="0" font-size="32.66" font-weight="bold" fill="#111" xml:space="preserve">&gt; </text><path transform="translate(28.15,0) scale(32.665)" d="M0.399,0 L0.262,0 L0.262,-0.496 C0.212,-0.449 0.153,-0.414 0.086,-0.392 L0.086,-0.516 C0.122,-0.528 0.161,-0.550 0.203,-0.582 C0.245,-0.615 0.274,-0.652 0.289,-0.688 L0.399,-0.688 Z" fill="#111"/><text x="46.32" y="0" font-size="32.66" font-weight="bold" fill="#111" xml:space="preserve">0MW</text></g>
<g transform="translate(306.74,186.4) scale(0.9567,1)"><text x="0.00" y="0" font-size="49.71" font-weight="bold" fill="#e6111b" xml:space="preserve">9</text><path transform="translate(27.65,0) scale(49.713)" d="M0.399,0 L0.262,0 L0.262,-0.496 C0.212,-0.449 0.153,-0.414 0.086,-0.392 L0.086,-0.516 C0.122,-0.528 0.161,-0.550 0.203,-0.582 C0.245,-0.615 0.274,-0.652 0.289,-0.688 L0.399,-0.688 Z" fill="#e6111b"/><text x="55.30" y="0" font-size="49.71" font-weight="bold" fill="#e6111b" xml:space="preserve"> %</text></g>
<g transform="translate(227.16,1295.3) scale(0.9628,1)"><text x="0.00" y="0" font-size="50.00" font-weight="bold" fill="#e6111b" xml:space="preserve">8.6 %</text></g>
<g transform="translate(38.6,881.31) rotate(-90) scale(1.0076,1)"><text x="0.00" y="0" font-size="48.55" fill="#000" xml:space="preserve">Number of hydropower plants</text></g>
<g transform="translate(38.6,1983.21) rotate(-90) scale(1.0064,1)"><text x="0.00" y="0" font-size="48.55" fill="#000" xml:space="preserve">Number of hydropower plants</text></g>
<g transform="translate(330.21,2268) scale(1.0004,1)"><text x="0.00" y="0" font-size="48.83" fill="#000" xml:space="preserve">Installed power capacity (MW)</text></g>
<g fill="#9c9c9c" stroke="#1a1a1a" stroke-width="1.5" stroke-linejoin="miter"><path d="M434.2,93.1 L325.6,93.1 L325.6,86.0 L292.2,96.9 L325.6,107.6 L325.6,100.7 L434.2,100.7 Z"/><path d="M475.6,94.3 L584.3,94.3 L584.3,87.1 L617.6,98.0 L584.3,108.5 L584.3,101.4 L475.6,101.4 Z"/></g>
<rect x="668.0" y="152.0" width="405.0" height="397.20000000000005" fill="#fff" stroke="none"/>
<g fill-opacity="0.5" stroke="#111" stroke-width="1.6"><circle cx="873.2" cy="177.7" r="7.8" fill="#1f61ad"/><circle cx="798.3" cy="240.1" r="7.8" fill="#1f61ad"/><circle cx="876.1" cy="245.6" r="7.8" fill="#1f61ad"/><circle cx="815.5" cy="269.7" r="7.8" fill="#1f61ad"/><circle cx="808.6" cy="289.6" r="7.8" fill="#1f61ad"/><circle cx="877" cy="290.6" r="7.8" fill="#1f61ad"/><circle cx="862.8" cy="301.3" r="7.8" fill="#1f61ad"/><circle cx="755.8" cy="304.7" r="7.8" fill="#eb8719"/><circle cx="800.2" cy="317.4" r="7.8" fill="#1f61ad"/><circle cx="812.1" cy="319.3" r="7.8" fill="#1f61ad"/><circle cx="830.7" cy="318.3" r="7.8" fill="#1f61ad"/><circle cx="834" cy="321.3" r="7.8" fill="#d70519"/><circle cx="727.5" cy="335.2" r="7.8" fill="#1f61ad"/><circle cx="767.2" cy="331.3" r="7.8" fill="#eb8719"/><circle cx="780.3" cy="329.3" r="7.8" fill="#eb8719"/><circle cx="772.4" cy="336.5" r="7.8" fill="#eb8719"/><circle cx="793.4" cy="336.1" r="7.8" fill="#eb8719"/><circle cx="822.3" cy="332.6" r="7.8" fill="#eb8719"/><circle cx="832.1" cy="335" r="7.8" fill="#d70519"/><circle cx="841.9" cy="332" r="7.8" fill="#1f61ad"/><circle cx="849.7" cy="332" r="7.8" fill="#1f61ad"/><circle cx="871.2" cy="338.5" r="7.8" fill="#1f61ad"/><circle cx="748.4" cy="345.7" r="7.8" fill="#1f61ad"/><circle cx="767.2" cy="352.2" r="7.8" fill="#1f61ad"/><circle cx="782.8" cy="347.9" r="7.8" fill="#eb8719"/><circle cx="795.9" cy="348.9" r="7.8" fill="#1f61ad"/><circle cx="807.1" cy="354.7" r="7.8" fill="#1f61ad"/><circle cx="739.2" cy="360.2" r="7.8" fill="#7d7d7d"/><circle cx="891.7" cy="214.7" r="7.8" fill="#1f61ad"/><circle cx="915.3" cy="212.7" r="7.8" fill="#1f61ad"/><circle cx="900.1" cy="232.5" r="7.8" fill="#1f61ad"/><circle cx="916.1" cy="231.9" r="7.8" fill="#1f61ad"/><circle cx="974.8" cy="238.8" r="7.8" fill="#a56987"/><circle cx="946" cy="245.6" r="7.8" fill="#eb8719"/><circle cx="906.3" cy="256.9" r="7.8" fill="#eb8719"/><circle cx="918.7" cy="251.5" r="7.8" fill="#1f61ad"/><circle cx="921.6" cy="254.4" r="7.8" fill="#1f61ad"/><circle cx="923.6" cy="256.9" r="7.8" fill="#d70519"/><circle cx="926.1" cy="260.3" r="7.8" fill="#d70519"/><circle cx="911.8" cy="313.1" r="7.8" fill="#eb8719"/><circle cx="954.3" cy="331.6" r="7.8" fill="#a56987"/><circle cx="776.9" cy="364.2" r="7.8" fill="#1f61ad"/><circle cx="767.2" cy="369.1" r="7.8" fill="#1f61ad"/><circle cx="767.6" cy="377.9" r="7.8" fill="#1f61ad"/><circle cx="772.4" cy="381.8" r="7.8" fill="#eb8719"/><circle cx="795.3" cy="371.1" r="7.8" fill="#d70519"/><circle cx="802.8" cy="381.8" r="7.8" fill="#eb8719"/><circle cx="787.1" cy="385.7" r="7.8" fill="#eb8719"/><circle cx="795.9" cy="392.6" r="7.8" fill="#eb8719"/><circle cx="820.4" cy="387.7" r="7.8" fill="#1f61ad"/><circle cx="814.5" cy="394.5" r="7.8" fill="#eb8719"/><circle cx="816.4" cy="406.3" r="7.8" fill="#eb8719"/><circle cx="787.1" cy="405.9" r="7.8" fill="#1f61ad"/><circle cx="802.8" cy="410.2" r="7.8" fill="#1f61ad"/><circle cx="776.4" cy="417" r="7.8" fill="#d70519"/><circle cx="761.7" cy="404.3" r="7.8" fill="#199119"/><circle cx="755.8" cy="411.2" r="7.8" fill="#199119"/><circle cx="831.1" cy="369.1" r="7.8" fill="#7d7d7d"/><circle cx="843.8" cy="362.3" r="7.8" fill="#d70519"/><circle cx="853.6" cy="362.3" r="7.8" fill="#a56987"/><circle cx="859.5" cy="371.1" r="7.8" fill="#7d7d7d"/><circle cx="683.1" cy="385.7" r="7.8" fill="#1f61ad"/><circle cx="711.2" cy="381.2" r="7.8" fill="#199119"/><circle cx="711.2" cy="383.5" r="7.8" fill="#1f61ad"/><circle cx="711.2" cy="394.5" r="7.8" fill="#1f61ad"/><circle cx="711.2" cy="392" r="7.8" fill="#1f61ad"/><circle cx="711.2" cy="411.2" r="7.8" fill="#a48c44" fill-opacity="1"/><circle cx="739.2" cy="390.2" r="7.8" fill="#199119"/><circle cx="748.4" cy="390.2" r="7.8" fill="#eb8719"/><circle cx="727.5" cy="420.9" r="7.8" fill="#1f61ad"/><circle cx="727.5" cy="432.1" r="7.8" fill="#1f61ad"/><circle cx="683.1" cy="425.4" r="7.8" fill="#199119"/><circle cx="683.1" cy="438.5" r="7.8" fill="#7d7d7d"/><circle cx="711.2" cy="440" r="7.8" fill="#7d7d7d"/><circle cx="711.2" cy="438.5" r="7.8" fill="#b4987a" fill-opacity="1"/><circle cx="683.1" cy="456.1" r="7.8" fill="#7d7d7d"/><circle cx="711.2" cy="463" r="7.8" fill="#1f61ad"/><circle cx="683.1" cy="469.8" r="7.8" fill="#199119"/><circle cx="683.1" cy="478.2" r="7.8" fill="#199119"/><circle cx="683.1" cy="491.3" r="7.8" fill="#eb8719"/><circle cx="683.1" cy="507" r="7.8" fill="#a26a56" fill-opacity="1"/><circle cx="711.2" cy="490.4" r="7.8" fill="#199119"/><circle cx="711.2" cy="507" r="7.8" fill="#199119"/><circle cx="727.5" cy="507" r="7.8" fill="#af4191"/><circle cx="727.5" cy="490.4" r="7.8" fill="#d70519"/><circle cx="727.5" cy="478.6" r="7.8" fill="#199119"/><circle cx="727.5" cy="478.6" r="7.8" fill="#199119"/><circle cx="739.2" cy="470.8" r="7.8" fill="#eb8719"/><circle cx="739.2" cy="490.4" r="7.8" fill="#eb8719"/><circle cx="750" cy="490.4" r="7.8" fill="#199119"/><circle cx="749" cy="478.6" r="7.8" fill="#eb8719"/><circle cx="759.7" cy="478.6" r="7.8" fill="#199119"/><circle cx="763.6" cy="478.6" r="7.8" fill="#199119"/><circle cx="780.3" cy="469.2" r="7.8" fill="#199119"/><circle cx="780.3" cy="479.6" r="7.8" fill="#199119"/><circle cx="797.9" cy="470.4" r="7.8" fill="#199119"/><circle cx="755.8" cy="435.6" r="7.8" fill="#199119"/><circle cx="739.2" cy="446.4" r="7.8" fill="#199119"/><circle cx="738.2" cy="456.1" r="7.8" fill="#199119"/><circle cx="748" cy="446.4" r="7.8" fill="#199119"/><circle cx="746" cy="457.1" r="7.8" fill="#eb8719"/><circle cx="755.8" cy="457.1" r="7.8" fill="#eb8719"/><circle cx="766.6" cy="445.4" r="7.8" fill="#199119"/><circle cx="768.5" cy="451.2" r="7.8" fill="#eb8719"/><circle cx="773.4" cy="453.2" r="7.8" fill="#199119"/><circle cx="781.2" cy="442.4" r="7.8" fill="#199119"/><circle cx="795.9" cy="438.5" r="7.8" fill="#eb8719"/><circle cx="808.6" cy="451.2" r="7.8" fill="#199119"/><circle cx="850.7" cy="446.4" r="7.8" fill="#eb8719"/><circle cx="838.9" cy="479" r="7.8" fill="#eb8719"/><circle cx="683.1" cy="535" r="7.8" fill="#7c7a38" fill-opacity="1"/><circle cx="711.2" cy="535" r="7.8" fill="#8c8a3c" fill-opacity="1"/><circle cx="727.5" cy="535" r="7.8" fill="#199119"/><circle cx="727.5" cy="535" r="7.8" fill="#199119"/><circle cx="747.6" cy="535" r="7.8" fill="#199119"/><circle cx="756.2" cy="535" r="7.8" fill="#199119"/><circle cx="776.4" cy="535" r="7.8" fill="#199119"/><circle cx="786.1" cy="535" r="7.8" fill="#eb8719"/><circle cx="795.9" cy="535" r="7.8" fill="#eb8719"/></g>
<line x1="668.0" y1="549.2" x2="1073.0" y2="152.0" stroke="#e20f1d" stroke-width="2.1" stroke-dasharray="11.5 6.5"/>
<rect x="668" y="152" width="405" height="397.2" fill="none" stroke="#000" stroke-width="1.4"/>
<g stroke="#000" stroke-width="1.4"><line x1="652.8" y1="535" x2="668.0" y2="535"/><line x1="682.7" y1="549.2" x2="682.7" y2="564.6"/><line x1="652.8" y1="442.8" x2="668.0" y2="442.8"/><line x1="776.45" y1="549.2" x2="776.45" y2="564.6"/><line x1="652.8" y1="350.6" x2="668.0" y2="350.6"/><line x1="870.2" y1="549.2" x2="870.2" y2="564.6"/><line x1="652.8" y1="258.4" x2="668.0" y2="258.4"/><line x1="963.95" y1="549.2" x2="963.95" y2="564.6"/><line x1="652.8" y1="166.2" x2="668.0" y2="166.2"/><line x1="1057.7" y1="549.2" x2="1057.7" y2="564.6"/></g>
<g transform="translate(628.77,543.4) scale(1.0000,1)"><path transform="translate(0.00,0) scale(24.200)" d="M0.373,0 L0.285,0 L0.285,-0.539 C0.264,-0.519 0.236,-0.499 0.201,-0.479 C0.167,-0.459 0.136,-0.444 0.109,-0.434 L0.109,-0.517 C0.158,-0.540 0.200,-0.568 0.237,-0.601 C0.273,-0.634 0.299,-0.664 0.314,-0.688 L0.373,-0.688 Z" fill="#000"/></g>
<g transform="translate(677.47,601.6) scale(1.0000,1)"><path transform="translate(0.00,0) scale(24.200)" d="M0.373,0 L0.285,0 L0.285,-0.539 C0.264,-0.519 0.236,-0.499 0.201,-0.479 C0.167,-0.459 0.136,-0.444 0.109,-0.434 L0.109,-0.517 C0.158,-0.540 0.200,-0.568 0.237,-0.601 C0.273,-0.634 0.299,-0.664 0.314,-0.688 L0.373,-0.688 Z" fill="#000"/></g>
<g transform="translate(611.83,451.2) scale(1.0000,1)"><path transform="translate(0.00,0) scale(24.200)" d="M0.373,0 L0.285,0 L0.285,-0.539 C0.264,-0.519 0.236,-0.499 0.201,-0.479 C0.167,-0.459 0.136,-0.444 0.109,-0.434 L0.109,-0.517 C0.158,-0.540 0.200,-0.568 0.237,-0.601 C0.273,-0.634 0.299,-0.664 0.314,-0.688 L0.373,-0.688 Z" fill="#000"/><text x="13.46" y="0" font-size="24.20" fill="#000" xml:space="preserve">0</text></g>
<g transform="translate(762.75,601.6) scale(1.0000,1)"><path transform="translate(0.00,0) scale(24.200)" d="M0.373,0 L0.285,0 L0.285,-0.539 C0.264,-0.519 0.236,-0.499 0.201,-0.479 C0.167,-0.459 0.136,-0.444 0.109,-0.434 L0.109,-0.517 C0.158,-0.540 0.200,-0.568 0.237,-0.601 C0.273,-0.634 0.299,-0.664 0.314,-0.688 L0.373,-0.688 Z" fill="#000"/><text x="13.46" y="0" font-size="24.20" fill="#000" xml:space="preserve">0</text></g>
<g transform="translate(598.37,359) scale(1.0000,1)"><path transform="translate(0.00,0) scale(24.200)" d="M0.373,0 L0.285,0 L0.285,-0.539 C0.264,-0.519 0.236,-0.499 0.201,-0.479 C0.167,-0.459 0.136,-0.444 0.109,-0.434 L0.109,-0.517 C0.158,-0.540 0.200,-0.568 0.237,-0.601 C0.273,-0.634 0.299,-0.664 0.314,-0.688 L0.373,-0.688 Z" fill="#000"/><text x="13.46" y="0" font-size="24.20" fill="#000" xml:space="preserve">00</text></g>
<g transform="translate(849.77,601.6) scale(1.0000,1)"><path transform="translate(0.00,0) scale(24.200)" d="M0.373,0 L0.285,0 L0.285,-0.539 C0.264,-0.519 0.236,-0.499 0.201,-0.479 C0.167,-0.459 0.136,-0.444 0.109,-0.434 L0.109,-0.517 C0.158,-0.540 0.200,-0.568 0.237,-0.601 C0.273,-0.634 0.299,-0.664 0.314,-0.688 L0.373,-0.688 Z" fill="#000"/><text x="13.46" y="0" font-size="24.20" fill="#000" xml:space="preserve">00</text></g>
<g transform="translate(584.92,266.8) scale(1.0000,1)"><path transform="translate(0.00,0) scale(24.200)" d="M0.373,0 L0.285,0 L0.285,-0.539 C0.264,-0.519 0.236,-0.499 0.201,-0.479 C0.167,-0.459 0.136,-0.444 0.109,-0.434 L0.109,-0.517 C0.158,-0.540 0.200,-0.568 0.237,-0.601 C0.273,-0.634 0.299,-0.664 0.314,-0.688 L0.373,-0.688 Z" fill="#000"/><text x="13.46" y="0" font-size="24.20" fill="#000" xml:space="preserve">000</text></g>
<g transform="translate(936.79,601.6) scale(1.0000,1)"><path transform="translate(0.00,0) scale(24.200)" d="M0.373,0 L0.285,0 L0.285,-0.539 C0.264,-0.519 0.236,-0.499 0.201,-0.479 C0.167,-0.459 0.136,-0.444 0.109,-0.434 L0.109,-0.517 C0.158,-0.540 0.200,-0.568 0.237,-0.601 C0.273,-0.634 0.299,-0.664 0.314,-0.688 L0.373,-0.688 Z" fill="#000"/><text x="13.46" y="0" font-size="24.20" fill="#000" xml:space="preserve">000</text></g>
<g transform="translate(571.46,174.6) scale(1.0000,1)"><path transform="translate(0.00,0) scale(24.200)" d="M0.373,0 L0.285,0 L0.285,-0.539 C0.264,-0.519 0.236,-0.499 0.201,-0.479 C0.167,-0.459 0.136,-0.444 0.109,-0.434 L0.109,-0.517 C0.158,-0.540 0.200,-0.568 0.237,-0.601 C0.273,-0.634 0.299,-0.664 0.314,-0.688 L0.373,-0.688 Z" fill="#000"/><text x="13.46" y="0" font-size="24.20" fill="#000" xml:space="preserve">0000</text></g>
<g transform="translate(1023.81,601.6) scale(1.0000,1)"><path transform="translate(0.00,0) scale(24.200)" d="M0.373,0 L0.285,0 L0.285,-0.539 C0.264,-0.519 0.236,-0.499 0.201,-0.479 C0.167,-0.459 0.136,-0.444 0.109,-0.434 L0.109,-0.517 C0.158,-0.540 0.200,-0.568 0.237,-0.601 C0.273,-0.634 0.299,-0.664 0.314,-0.688 L0.373,-0.688 Z" fill="#000"/><text x="13.46" y="0" font-size="24.20" fill="#000" xml:space="preserve">0000</text></g>
<g transform="translate(754.83,659.2) scale(1.0205,1)"><text x="0.00" y="0" font-size="29.52" fill="#000" xml:space="preserve">Number of LHPs</text></g>
<g transform="translate(545.2,463.47) rotate(-90) scale(0.9908,1)"><text x="0.00" y="0" font-size="30.34" fill="#000" xml:space="preserve">Number of SHPs</text></g>
<rect x="742.9" y="1233.4" width="350.5" height="344.1" fill="#fff" stroke="none"/>
<g fill="#505050" fill-opacity="0.32" stroke="#111" stroke-opacity="0.85" stroke-width="1.4"><circle cx="872.36" cy="1427.39" r="7.4"/><circle cx="871.14" cy="1424.32" r="7.4"/><circle cx="960.39" cy="1444.06" r="7.4"/><circle cx="982.7" cy="1390.9" r="7.4"/><circle cx="930.67" cy="1471.9" r="7.4"/><circle cx="925.29" cy="1460.83" r="7.4"/><circle cx="888.07" cy="1306.6" r="7.4"/><circle cx="957.83" cy="1375.91" r="7.4"/><circle cx="804.8" cy="1448.43" r="7.4"/><circle cx="926.01" cy="1395.34" r="7.4"/><circle cx="958.75" cy="1407.79" r="7.4"/><circle cx="933.04" cy="1442.55" r="7.4"/><circle cx="837.54" cy="1423.63" r="7.4"/><circle cx="903.34" cy="1417.49" r="7.4"/><circle cx="882.61" cy="1399.12" r="7.4"/><circle cx="944.8" cy="1397.69" r="7.4"/><circle cx="954.27" cy="1483.5" r="7.4"/><circle cx="797.9" cy="1488.8" r="7.4"/><circle cx="881.16" cy="1440.75" r="7.4"/><circle cx="818.42" cy="1455.34" r="7.4"/><circle cx="923.97" cy="1389.51" r="7.4"/><circle cx="890.43" cy="1484.72" r="7.4"/><circle cx="798.4" cy="1403.6" r="7.4"/><circle cx="906.4" cy="1262" r="7.4"/><circle cx="841.6" cy="1470.2" r="7.4"/><circle cx="938.22" cy="1454.1" r="7.4"/><circle cx="932.53" cy="1440.87" r="7.4"/><circle cx="861.98" cy="1471.68" r="7.4"/><circle cx="931.16" cy="1420.92" r="7.4"/><circle cx="928.64" cy="1355.68" r="7.4"/><circle cx="854.73" cy="1355.4" r="7.4"/><circle cx="920.06" cy="1479.93" r="7.4"/><circle cx="879.24" cy="1505.25" r="7.4"/><circle cx="975.6" cy="1526.6" r="7.4"/><circle cx="923.47" cy="1405.62" r="7.4"/><circle cx="945.66" cy="1337.37" r="7.4"/><circle cx="876.9" cy="1461.18" r="7.4"/><circle cx="865.08" cy="1423.68" r="7.4"/><circle cx="886.48" cy="1370.33" r="7.4"/><circle cx="787.2" cy="1448.8" r="7.4"/><circle cx="951.16" cy="1415.65" r="7.4"/><circle cx="870.34" cy="1478.19" r="7.4"/><circle cx="925.18" cy="1426.32" r="7.4"/><circle cx="900.26" cy="1438.87" r="7.4"/><circle cx="926.24" cy="1432.8" r="7.4"/><circle cx="951.9" cy="1246.4" r="7.4"/><circle cx="885.31" cy="1495.53" r="7.4"/><circle cx="944.34" cy="1435.25" r="7.4"/><circle cx="937.62" cy="1374.41" r="7.4"/><circle cx="924.54" cy="1492.61" r="7.4"/><circle cx="972.14" cy="1404.28" r="7.4"/><circle cx="831.37" cy="1419.06" r="7.4"/><circle cx="877.69" cy="1450.95" r="7.4"/><circle cx="842.67" cy="1415.49" r="7.4"/><circle cx="932.28" cy="1434.25" r="7.4"/><circle cx="916.63" cy="1381.17" r="7.4"/><circle cx="858.92" cy="1403.39" r="7.4"/><circle cx="914.82" cy="1384.78" r="7.4"/><circle cx="874.76" cy="1446.92" r="7.4"/><circle cx="885.6" cy="1324.4" r="7.4"/><circle cx="837.31" cy="1429.87" r="7.4"/><circle cx="880.48" cy="1455.35" r="7.4"/><circle cx="893.33" cy="1505.13" r="7.4"/><circle cx="879.61" cy="1453.69" r="7.4"/><circle cx="935.18" cy="1391.04" r="7.4"/><circle cx="829.29" cy="1382.75" r="7.4"/><circle cx="831.43" cy="1429.58" r="7.4"/><circle cx="891.25" cy="1423.31" r="7.4"/><circle cx="963.63" cy="1426.11" r="7.4"/><circle cx="878.72" cy="1389.61" r="7.4"/><circle cx="912.98" cy="1437.44" r="7.4"/><circle cx="835.33" cy="1470.59" r="7.4"/><circle cx="821.54" cy="1428.17" r="7.4"/><circle cx="897.17" cy="1440.78" r="7.4"/><circle cx="900.18" cy="1468.2" r="7.4"/><circle cx="881.13" cy="1475.69" r="7.4"/><circle cx="894.58" cy="1437.83" r="7.4"/><circle cx="927.75" cy="1511.63" r="7.4"/><circle cx="919.52" cy="1493.95" r="7.4"/><circle cx="891" cy="1454.07" r="7.4"/><circle cx="951.89" cy="1415.44" r="7.4"/><circle cx="939.84" cy="1484.07" r="7.4"/><circle cx="860.16" cy="1462.15" r="7.4"/><circle cx="979.36" cy="1426.32" r="7.4"/><circle cx="870.69" cy="1494.76" r="7.4"/><circle cx="934.05" cy="1376.57" r="7.4"/><circle cx="958.95" cy="1346.94" r="7.4"/><circle cx="966.95" cy="1397.78" r="7.4"/><circle cx="855.36" cy="1416.72" r="7.4"/><circle cx="862.68" cy="1457.47" r="7.4"/><circle cx="899.78" cy="1411.42" r="7.4"/><circle cx="801.6" cy="1473.6" r="7.4"/><circle cx="905.49" cy="1339.97" r="7.4"/><circle cx="934.76" cy="1462.88" r="7.4"/><circle cx="933.18" cy="1338.17" r="7.4"/><circle cx="933.65" cy="1406.33" r="7.4"/><circle cx="986.39" cy="1374.26" r="7.4"/><circle cx="881.95" cy="1470.22" r="7.4"/><circle cx="881.67" cy="1432" r="7.4"/><circle cx="923.78" cy="1434.17" r="7.4"/><circle cx="917.52" cy="1431.07" r="7.4"/><circle cx="933.23" cy="1304.99" r="7.4"/><circle cx="913.24" cy="1395.29" r="7.4"/><circle cx="911.85" cy="1425.53" r="7.4"/><circle cx="939.44" cy="1418.57" r="7.4"/><circle cx="910.33" cy="1334.43" r="7.4"/><circle cx="815.67" cy="1491.43" r="7.4"/><circle cx="776.5" cy="1400" r="7.4"/><circle cx="891.32" cy="1402.61" r="7.4"/><circle cx="881.82" cy="1375.56" r="7.4"/><circle cx="923.41" cy="1478.38" r="7.4"/><circle cx="879.89" cy="1463.47" r="7.4"/><circle cx="872.51" cy="1478.25" r="7.4"/><circle cx="907.64" cy="1355.7" r="7.4"/><circle cx="947.67" cy="1384.68" r="7.4"/><circle cx="894.99" cy="1381.24" r="7.4"/><circle cx="921.43" cy="1475.89" r="7.4"/><circle cx="910.67" cy="1433.36" r="7.4"/><circle cx="908.35" cy="1486.05" r="7.4"/><circle cx="899.18" cy="1415.86" r="7.4"/><circle cx="895.09" cy="1507.28" r="7.4"/><circle cx="964.04" cy="1361.91" r="7.4"/><circle cx="939.1" cy="1296.1" r="7.4"/><circle cx="905.56" cy="1345.9" r="7.4"/><circle cx="888" cy="1535.2" r="7.4"/><circle cx="857.96" cy="1396.81" r="7.4"/><circle cx="961.16" cy="1367.32" r="7.4"/><circle cx="920.68" cy="1498.66" r="7.4"/><circle cx="932.81" cy="1430.03" r="7.4"/><circle cx="932.54" cy="1422.78" r="7.4"/><circle cx="915.21" cy="1390.28" r="7.4"/><circle cx="885.52" cy="1428.65" r="7.4"/><circle cx="953.21" cy="1352.81" r="7.4"/><circle cx="898.71" cy="1445.3" r="7.4"/><circle cx="947.61" cy="1463.96" r="7.4"/><circle cx="885.79" cy="1416.57" r="7.4"/><circle cx="897.68" cy="1428.67" r="7.4"/><circle cx="854.11" cy="1462.49" r="7.4"/><circle cx="863.02" cy="1370.43" r="7.4"/><circle cx="905.63" cy="1471.55" r="7.4"/><circle cx="917.03" cy="1453.22" r="7.4"/><circle cx="852.61" cy="1437.5" r="7.4"/><circle cx="898.02" cy="1407.47" r="7.4"/><circle cx="923.94" cy="1362.06" r="7.4"/><circle cx="841.89" cy="1490.03" r="7.4"/><circle cx="874.69" cy="1476.95" r="7.4"/><circle cx="913.23" cy="1391.1" r="7.4"/><circle cx="825.19" cy="1428.78" r="7.4"/><circle cx="844.64" cy="1379.87" r="7.4"/><circle cx="881.23" cy="1408.16" r="7.4"/><circle cx="918.3" cy="1328.1" r="7.4"/><circle cx="851.35" cy="1428.58" r="7.4"/><circle cx="884.88" cy="1427.17" r="7.4"/><circle cx="873.13" cy="1485.74" r="7.4"/><circle cx="917.44" cy="1456.58" r="7.4"/><circle cx="884.34" cy="1462.54" r="7.4"/><circle cx="895.2" cy="1308.4" r="7.4"/><circle cx="905.62" cy="1405.94" r="7.4"/><circle cx="919.49" cy="1426.17" r="7.4"/><circle cx="899.89" cy="1432.49" r="7.4"/><circle cx="870.4" cy="1334" r="7.4"/><circle cx="929.88" cy="1418.7" r="7.4"/><circle cx="856.54" cy="1424.12" r="7.4"/><circle cx="943.78" cy="1435.87" r="7.4"/><circle cx="908.41" cy="1408.99" r="7.4"/><circle cx="843.07" cy="1455.91" r="7.4"/><circle cx="896.08" cy="1412.77" r="7.4"/><circle cx="878.34" cy="1416.69" r="7.4"/><circle cx="889.16" cy="1392.22" r="7.4"/><circle cx="833.99" cy="1448.17" r="7.4"/><circle cx="879.18" cy="1414.3" r="7.4"/><circle cx="931.89" cy="1440" r="7.4"/><circle cx="1005.8" cy="1405.1" r="7.4"/><circle cx="932.18" cy="1389.24" r="7.4"/><circle cx="846.59" cy="1422.18" r="7.4"/><circle cx="944.08" cy="1461.42" r="7.4"/><circle cx="882.8" cy="1415.69" r="7.4"/><circle cx="885.18" cy="1546.19" r="7.4"/><circle cx="913.89" cy="1340.42" r="7.4"/><circle cx="808.8" cy="1386" r="7.4"/><circle cx="881.79" cy="1460.77" r="7.4"/><circle cx="876.65" cy="1394.17" r="7.4"/><circle cx="870.11" cy="1423.34" r="7.4"/><circle cx="877.13" cy="1458.78" r="7.4"/><circle cx="939.21" cy="1422.3" r="7.4"/><circle cx="834.03" cy="1505.13" r="7.4"/><circle cx="868.12" cy="1412.74" r="7.4"/><circle cx="940.71" cy="1379.74" r="7.4"/><circle cx="907.54" cy="1410.69" r="7.4"/><circle cx="952.21" cy="1409.84" r="7.4"/><circle cx="959.58" cy="1422.23" r="7.4"/><circle cx="919.17" cy="1385.31" r="7.4"/><circle cx="910.41" cy="1369.71" r="7.4"/><circle cx="922.09" cy="1361.95" r="7.4"/><circle cx="967.29" cy="1365.4" r="7.4"/><circle cx="990.7" cy="1450.7" r="7.4"/><circle cx="972.9" cy="1347.3" r="7.4"/><circle cx="920.41" cy="1401.51" r="7.4"/><circle cx="948.02" cy="1350.61" r="7.4"/><circle cx="891.39" cy="1343.63" r="7.4"/><circle cx="935.4" cy="1411.71" r="7.4"/><circle cx="982.7" cy="1319.8" r="7.4"/><circle cx="952.67" cy="1381.34" r="7.4"/><circle cx="945.48" cy="1379.9" r="7.4"/><circle cx="896.81" cy="1375.32" r="7.4"/><circle cx="913.6" cy="1325.41" r="7.4"/><circle cx="953.6" cy="1451.15" r="7.4"/><circle cx="952.4" cy="1489.72" r="7.4"/><circle cx="865.09" cy="1411.62" r="7.4"/><circle cx="916.72" cy="1418" r="7.4"/><circle cx="843.63" cy="1417.35" r="7.4"/><circle cx="831.28" cy="1512.05" r="7.4"/><circle cx="923.92" cy="1369.44" r="7.4"/><circle cx="958.7" cy="1534.8" r="7.4"/><circle cx="882.64" cy="1409.39" r="7.4"/><circle cx="887.39" cy="1302.54" r="7.4"/><circle cx="832.5" cy="1545.9" r="7.4"/><circle cx="950.23" cy="1396.67" r="7.4"/><circle cx="902.3" cy="1440.55" r="7.4"/><circle cx="885.44" cy="1505.59" r="7.4"/><circle cx="884.21" cy="1409.66" r="7.4"/><circle cx="890.16" cy="1454.03" r="7.4"/><circle cx="892.37" cy="1404.32" r="7.4"/><circle cx="941.7" cy="1432.77" r="7.4"/><circle cx="915.52" cy="1392.05" r="7.4"/><circle cx="928.8" cy="1546.1" r="7.4"/><circle cx="867.37" cy="1416.21" r="7.4"/><circle cx="876.44" cy="1438.94" r="7.4"/><circle cx="889.2" cy="1418.21" r="7.4"/><circle cx="876.23" cy="1351.38" r="7.4"/><circle cx="861.48" cy="1393.11" r="7.4"/><circle cx="945.63" cy="1395.95" r="7.4"/><circle cx="890.97" cy="1384.56" r="7.4"/><circle cx="853.73" cy="1372.49" r="7.4"/><circle cx="931.68" cy="1381.44" r="7.4"/><circle cx="983.6" cy="1265.6" r="7.4"/><circle cx="856.19" cy="1337.7" r="7.4"/><circle cx="748.8" cy="1501.6" r="7.4"/><circle cx="900.75" cy="1420.5" r="7.4"/><circle cx="961.9" cy="1506.7" r="7.4"/><circle cx="900" cy="1564.8" r="7.4"/><circle cx="914.4" cy="1423.52" r="7.4"/><circle cx="908.99" cy="1494.64" r="7.4"/><circle cx="881.21" cy="1456.48" r="7.4"/><circle cx="908.59" cy="1420.89" r="7.4"/><circle cx="892" cy="1546.4" r="7.4"/><circle cx="853.32" cy="1421.95" r="7.4"/><circle cx="871.01" cy="1349.73" r="7.4"/><circle cx="956.57" cy="1422.12" r="7.4"/><circle cx="923.35" cy="1437.83" r="7.4"/><circle cx="876.89" cy="1425.84" r="7.4"/><circle cx="966.54" cy="1417.63" r="7.4"/><circle cx="890.4" cy="1289.2" r="7.4"/><circle cx="807.2" cy="1353.2" r="7.4"/><circle cx="897.81" cy="1330.83" r="7.4"/><circle cx="926.33" cy="1425.15" r="7.4"/><circle cx="840.69" cy="1484.21" r="7.4"/><circle cx="872.91" cy="1525.21" r="7.4"/><circle cx="857.85" cy="1363.71" r="7.4"/><circle cx="917.5" cy="1379.34" r="7.4"/><circle cx="834.55" cy="1347.76" r="7.4"/><circle cx="923.88" cy="1350.45" r="7.4"/><circle cx="925.26" cy="1423.71" r="7.4"/><circle cx="925.17" cy="1396.39" r="7.4"/><circle cx="856.23" cy="1449.89" r="7.4"/><circle cx="886.2" cy="1468.58" r="7.4"/><circle cx="865.98" cy="1463.16" r="7.4"/><circle cx="924.48" cy="1456.49" r="7.4"/><circle cx="893.61" cy="1490.51" r="7.4"/><circle cx="935.77" cy="1368.39" r="7.4"/><circle cx="888.26" cy="1471.87" r="7.4"/><circle cx="884.84" cy="1464.87" r="7.4"/><circle cx="932.99" cy="1330.86" r="7.4"/><circle cx="890.52" cy="1398.08" r="7.4"/><circle cx="961.92" cy="1450.3" r="7.4"/><circle cx="980.89" cy="1418.96" r="7.4"/><circle cx="860.51" cy="1399.22" r="7.4"/><circle cx="923.57" cy="1426.63" r="7.4"/><circle cx="830.24" cy="1481.36" r="7.4"/><circle cx="953.86" cy="1435.48" r="7.4"/><circle cx="796.8" cy="1368.4" r="7.4"/><circle cx="897.78" cy="1476.98" r="7.4"/><circle cx="942.38" cy="1441.3" r="7.4"/><circle cx="863.3" cy="1455.55" r="7.4"/><circle cx="928.18" cy="1400.36" r="7.4"/><circle cx="942.41" cy="1383.56" r="7.4"/><circle cx="906.89" cy="1399.02" r="7.4"/><circle cx="934.7" cy="1463.85" r="7.4"/><circle cx="925.8" cy="1565.3" r="7.4"/><circle cx="892.46" cy="1354.43" r="7.4"/><circle cx="871.73" cy="1372.56" r="7.4"/><circle cx="891.71" cy="1382.47" r="7.4"/><circle cx="945.31" cy="1430.18" r="7.4"/><circle cx="868.49" cy="1377.81" r="7.4"/><circle cx="844.06" cy="1422.76" r="7.4"/><circle cx="935.22" cy="1328.47" r="7.4"/><circle cx="858.6" cy="1358.08" r="7.4"/><circle cx="874.84" cy="1424.91" r="7.4"/><circle cx="901.62" cy="1407.66" r="7.4"/><circle cx="937.04" cy="1378.65" r="7.4"/><circle cx="900.18" cy="1404.62" r="7.4"/><circle cx="874.19" cy="1462.64" r="7.4"/><circle cx="816.8" cy="1486.4" r="7.4"/><circle cx="930.03" cy="1419.62" r="7.4"/><circle cx="920.91" cy="1444.47" r="7.4"/><circle cx="815.2" cy="1507.2" r="7.4"/><circle cx="929.37" cy="1435.83" r="7.4"/><circle cx="955.6" cy="1360.93" r="7.4"/><circle cx="928.19" cy="1416.91" r="7.4"/><circle cx="925.17" cy="1399.86" r="7.4"/><circle cx="882.04" cy="1361.17" r="7.4"/><circle cx="778.4" cy="1481.9" r="7.4"/><circle cx="859.79" cy="1402.2" r="7.4"/><circle cx="922.62" cy="1466.29" r="7.4"/><circle cx="910" cy="1343.57" r="7.4"/><circle cx="905.69" cy="1503.36" r="7.4"/><circle cx="949.98" cy="1349.29" r="7.4"/><circle cx="907.21" cy="1418.07" r="7.4"/><circle cx="891.82" cy="1359.41" r="7.4"/><circle cx="960.65" cy="1383.23" r="7.4"/><circle cx="908.9" cy="1534.2" r="7.4"/><circle cx="865.35" cy="1470.52" r="7.4"/><circle cx="926.05" cy="1411.91" r="7.4"/><circle cx="922.26" cy="1374.87" r="7.4"/><circle cx="965.19" cy="1386.55" r="7.4"/><circle cx="986.2" cy="1347.3" r="7.4"/><circle cx="906.59" cy="1496.28" r="7.4"/><circle cx="957.58" cy="1347.06" r="7.4"/><circle cx="933.43" cy="1399.74" r="7.4"/><circle cx="923.37" cy="1384.38" r="7.4"/><circle cx="883.66" cy="1393.32" r="7.4"/><circle cx="1035.5" cy="1415.8" r="7.4"/><circle cx="840.83" cy="1424.53" r="7.4"/><circle cx="985.58" cy="1360.42" r="7.4"/><circle cx="900.05" cy="1414.93" r="7.4"/><circle cx="979.81" cy="1352.98" r="7.4"/><circle cx="838.89" cy="1509.77" r="7.4"/><circle cx="850.02" cy="1444.09" r="7.4"/><circle cx="882.47" cy="1408.39" r="7.4"/><circle cx="905.79" cy="1407.53" r="7.4"/><circle cx="891.98" cy="1452.13" r="7.4"/><circle cx="953.91" cy="1425.7" r="7.4"/><circle cx="908.79" cy="1443.78" r="7.4"/><circle cx="962.2" cy="1333.1" r="7.4"/><circle cx="966.34" cy="1341.75" r="7.4"/><circle cx="968.07" cy="1469.16" r="7.4"/><circle cx="1014.1" cy="1438.8" r="7.4"/><circle cx="824.25" cy="1516.79" r="7.4"/><circle cx="873.1" cy="1564.8" r="7.4"/><circle cx="926.5" cy="1358.72" r="7.4"/><circle cx="930.86" cy="1404.58" r="7.4"/><circle cx="951.64" cy="1454.67" r="7.4"/><circle cx="886.32" cy="1383.83" r="7.4"/><circle cx="938.69" cy="1403.9" r="7.4"/><circle cx="936.03" cy="1387.12" r="7.4"/><circle cx="896.67" cy="1435.01" r="7.4"/><circle cx="866.53" cy="1481.64" r="7.4"/><circle cx="967.84" cy="1456.82" r="7.4"/><circle cx="847.75" cy="1434.69" r="7.4"/><circle cx="931.02" cy="1370.66" r="7.4"/><circle cx="846.29" cy="1423.6" r="7.4"/><circle cx="894.02" cy="1360.62" r="7.4"/><circle cx="912.87" cy="1454.88" r="7.4"/><circle cx="834.48" cy="1415.55" r="7.4"/><circle cx="847.72" cy="1470.07" r="7.4"/><circle cx="901.21" cy="1485.72" r="7.4"/><circle cx="945.8" cy="1424.85" r="7.4"/><circle cx="877.6" cy="1273.2" r="7.4"/><circle cx="846.49" cy="1398.86" r="7.4"/><circle cx="942.14" cy="1430.96" r="7.4"/><circle cx="896.65" cy="1468.44" r="7.4"/><circle cx="854.68" cy="1425.32" r="7.4"/><circle cx="975.8" cy="1450.52" r="7.4"/><circle cx="901.42" cy="1424.16" r="7.4"/><circle cx="949.4" cy="1515.6" r="7.4"/><circle cx="846.69" cy="1525.29" r="7.4"/><circle cx="872.16" cy="1402.42" r="7.4"/><circle cx="850.98" cy="1488.05" r="7.4"/><circle cx="829.32" cy="1526.48" r="7.4"/><circle cx="957.15" cy="1322.16" r="7.4"/><circle cx="921.77" cy="1356.14" r="7.4"/><circle cx="883.04" cy="1425.18" r="7.4"/><circle cx="916.15" cy="1393.07" r="7.4"/><circle cx="922.85" cy="1353.85" r="7.4"/><circle cx="860.83" cy="1479.01" r="7.4"/><circle cx="853.86" cy="1458.42" r="7.4"/><circle cx="904.04" cy="1539.04" r="7.4"/><circle cx="848.82" cy="1424.85" r="7.4"/><circle cx="972.89" cy="1382.77" r="7.4"/><circle cx="870.32" cy="1401.59" r="7.4"/><circle cx="860.73" cy="1469.8" r="7.4"/><circle cx="936.36" cy="1358.63" r="7.4"/><circle cx="894.47" cy="1377.13" r="7.4"/><circle cx="894.4" cy="1426.61" r="7.4"/><circle cx="849.03" cy="1369.83" r="7.4"/><circle cx="878.06" cy="1426.3" r="7.4"/><circle cx="922.92" cy="1327.65" r="7.4"/><circle cx="862.3" cy="1453.69" r="7.4"/><circle cx="924.12" cy="1473.26" r="7.4"/><circle cx="788.8" cy="1436" r="7.4"/><circle cx="900.58" cy="1397.12" r="7.4"/><circle cx="999.2" cy="1446.6" r="7.4"/><circle cx="908.96" cy="1400.51" r="7.4"/><circle cx="892.01" cy="1380.24" r="7.4"/><circle cx="912.07" cy="1486.13" r="7.4"/><circle cx="966.29" cy="1365.07" r="7.4"/><circle cx="872.6" cy="1483.96" r="7.4"/><circle cx="920.21" cy="1469.41" r="7.4"/><circle cx="874.9" cy="1413.77" r="7.4"/><circle cx="814.04" cy="1394.45" r="7.4"/><circle cx="869.81" cy="1352.61" r="7.4"/><circle cx="908.24" cy="1351.9" r="7.4"/><circle cx="884.94" cy="1480.05" r="7.4"/><circle cx="895.12" cy="1413.33" r="7.4"/><circle cx="883.93" cy="1501.53" r="7.4"/><circle cx="821.6" cy="1394.8" r="7.4"/><circle cx="884.55" cy="1430.43" r="7.4"/><circle cx="945.77" cy="1375.54" r="7.4"/><circle cx="855.98" cy="1392.81" r="7.4"/><circle cx="971.41" cy="1425.12" r="7.4"/><circle cx="957.34" cy="1398.37" r="7.4"/><circle cx="857.6" cy="1545.9" r="7.4"/><circle cx="916.37" cy="1501.06" r="7.4"/><circle cx="800.8" cy="1450.4" r="7.4"/><circle cx="949.21" cy="1445.65" r="7.4"/><circle cx="927.62" cy="1303.22" r="7.4"/><circle cx="933.35" cy="1367.16" r="7.4"/><circle cx="925.86" cy="1382.1" r="7.4"/><circle cx="958.71" cy="1445.73" r="7.4"/><circle cx="907.06" cy="1431.75" r="7.4"/><circle cx="862.6" cy="1360.03" r="7.4"/><circle cx="943.93" cy="1427.51" r="7.4"/><circle cx="880.36" cy="1497.21" r="7.4"/><circle cx="919.9" cy="1437.63" r="7.4"/><circle cx="898.23" cy="1395.02" r="7.4"/><circle cx="890.18" cy="1504.18" r="7.4"/><circle cx="832.08" cy="1428.84" r="7.4"/><circle cx="821.04" cy="1508.08" r="7.4"/><circle cx="856.62" cy="1443.87" r="7.4"/><circle cx="897.3" cy="1490.56" r="7.4"/><circle cx="864.43" cy="1354.5" r="7.4"/><circle cx="912.25" cy="1411.67" r="7.4"/><circle cx="936.2" cy="1387.66" r="7.4"/><circle cx="875.76" cy="1418.4" r="7.4"/><circle cx="857.06" cy="1451.3" r="7.4"/><circle cx="905.09" cy="1382.76" r="7.4"/><circle cx="835.93" cy="1430" r="7.4"/><circle cx="824.14" cy="1439.08" r="7.4"/><circle cx="900.76" cy="1405.13" r="7.4"/><circle cx="938.42" cy="1410.21" r="7.4"/><circle cx="888.39" cy="1430.29" r="7.4"/><circle cx="901.41" cy="1360.24" r="7.4"/><circle cx="895.06" cy="1470.73" r="7.4"/><circle cx="970.74" cy="1404.57" r="7.4"/><circle cx="830.44" cy="1378.88" r="7.4"/><circle cx="903.66" cy="1476.95" r="7.4"/><circle cx="852.65" cy="1393.51" r="7.4"/><circle cx="940.92" cy="1403.33" r="7.4"/><circle cx="848.66" cy="1486.24" r="7.4"/><circle cx="862.85" cy="1380.6" r="7.4"/><circle cx="776.5" cy="1395.6" r="7.4"/><circle cx="879.92" cy="1508.07" r="7.4"/><circle cx="987.22" cy="1375.45" r="7.4"/><circle cx="958.86" cy="1399.87" r="7.4"/><circle cx="915.1" cy="1288.7" r="7.4"/><circle cx="940.98" cy="1377.15" r="7.4"/><circle cx="879.33" cy="1443.41" r="7.4"/><circle cx="921.59" cy="1418.23" r="7.4"/><circle cx="927.35" cy="1430.98" r="7.4"/><circle cx="875.39" cy="1424.08" r="7.4"/><circle cx="923.29" cy="1356.09" r="7.4"/><circle cx="938.8" cy="1533.7" r="7.4"/><circle cx="973.64" cy="1419.02" r="7.4"/><circle cx="889.66" cy="1336.26" r="7.4"/><circle cx="935.37" cy="1388.98" r="7.4"/><circle cx="878.78" cy="1481.54" r="7.4"/><circle cx="903.29" cy="1373.81" r="7.4"/><circle cx="879.82" cy="1397.37" r="7.4"/><circle cx="909.6" cy="1535.2" r="7.4"/><circle cx="933.73" cy="1354.76" r="7.4"/><circle cx="914.87" cy="1421.15" r="7.4"/><circle cx="893.98" cy="1442.64" r="7.4"/><circle cx="820" cy="1372.9" r="7.4"/><circle cx="876" cy="1313.2" r="7.4"/><circle cx="905.67" cy="1434.18" r="7.4"/><circle cx="904.73" cy="1434.98" r="7.4"/><circle cx="842.7" cy="1494.46" r="7.4"/><circle cx="922.11" cy="1348.74" r="7.4"/><circle cx="805.11" cy="1472.97" r="7.4"/><circle cx="842.06" cy="1439.07" r="7.4"/><circle cx="851.69" cy="1425.49" r="7.4"/><circle cx="846.21" cy="1384.31" r="7.4"/><circle cx="889.54" cy="1477.45" r="7.4"/><circle cx="798.4" cy="1405.6" r="7.4"/><circle cx="898.06" cy="1458.4" r="7.4"/><circle cx="935.25" cy="1347.82" r="7.4"/><circle cx="951.88" cy="1376.72" r="7.4"/><circle cx="764" cy="1498.4" r="7.4"/><circle cx="923.46" cy="1400.62" r="7.4"/><circle cx="941.19" cy="1472.03" r="7.4"/><circle cx="848.34" cy="1449.76" r="7.4"/><circle cx="928.15" cy="1423.3" r="7.4"/><circle cx="889.18" cy="1427.41" r="7.4"/><circle cx="935.81" cy="1411.62" r="7.4"/><circle cx="879.69" cy="1447.77" r="7.4"/><circle cx="990.97" cy="1412.2" r="7.4"/><circle cx="877.93" cy="1466.01" r="7.4"/><circle cx="892.41" cy="1395.43" r="7.4"/><circle cx="902.35" cy="1462.34" r="7.4"/><circle cx="948.27" cy="1405.33" r="7.4"/><circle cx="903.99" cy="1407.56" r="7.4"/><circle cx="919.44" cy="1446.72" r="7.4"/><circle cx="887.27" cy="1406.67" r="7.4"/><circle cx="842.4" cy="1340.4" r="7.4"/><circle cx="861.08" cy="1412.7" r="7.4"/><circle cx="884.57" cy="1418.74" r="7.4"/><circle cx="825.08" cy="1500.43" r="7.4"/><circle cx="892.1" cy="1469.81" r="7.4"/><circle cx="901.8" cy="1565.3" r="7.4"/><circle cx="892.69" cy="1511.12" r="7.4"/><circle cx="973.89" cy="1429.9" r="7.4"/><circle cx="946.57" cy="1336.62" r="7.4"/><circle cx="941.21" cy="1345.13" r="7.4"/><circle cx="942.41" cy="1364.59" r="7.4"/><circle cx="922.12" cy="1334.7" r="7.4"/><circle cx="903.27" cy="1449.06" r="7.4"/><circle cx="896.92" cy="1476" r="7.4"/><circle cx="889.79" cy="1318.62" r="7.4"/><circle cx="840.77" cy="1449.89" r="7.4"/><circle cx="935.41" cy="1481.28" r="7.4"/><circle cx="891.53" cy="1424.65" r="7.4"/><circle cx="936.53" cy="1330.86" r="7.4"/><circle cx="858.72" cy="1390.26" r="7.4"/><circle cx="870.57" cy="1533.3" r="7.4"/><circle cx="865.72" cy="1481.56" r="7.4"/><circle cx="844.55" cy="1407.14" r="7.4"/><circle cx="845.77" cy="1412.45" r="7.4"/><circle cx="907.06" cy="1419.96" r="7.4"/><circle cx="982.26" cy="1377.81" r="7.4"/><circle cx="848" cy="1362" r="7.4"/><circle cx="910.4" cy="1339.25" r="7.4"/><circle cx="869.6" cy="1553.6" r="7.4"/><circle cx="939.86" cy="1393.71" r="7.4"/><circle cx="942.75" cy="1428.74" r="7.4"/><circle cx="906.84" cy="1371.3" r="7.4"/><circle cx="874.89" cy="1391.34" r="7.4"/><circle cx="840.64" cy="1473.06" r="7.4"/><circle cx="876.05" cy="1379.83" r="7.4"/><circle cx="871.73" cy="1495.55" r="7.4"/><circle cx="859.73" cy="1366.68" r="7.4"/><circle cx="862.41" cy="1420.75" r="7.4"/><circle cx="860" cy="1397.29" r="7.4"/><circle cx="935.6" cy="1516.4" r="7.4"/><circle cx="918.05" cy="1355.63" r="7.4"/><circle cx="913.64" cy="1480.12" r="7.4"/><circle cx="929.5" cy="1440.73" r="7.4"/><circle cx="973.28" cy="1385.07" r="7.4"/><circle cx="955.26" cy="1354.79" r="7.4"/><circle cx="944.13" cy="1466.98" r="7.4"/><circle cx="864.92" cy="1433.01" r="7.4"/><circle cx="1001.7" cy="1411.3" r="7.4"/><circle cx="854.33" cy="1348.06" r="7.4"/><circle cx="864.35" cy="1408.19" r="7.4"/><circle cx="843.59" cy="1420.17" r="7.4"/><circle cx="967.9" cy="1265.6" r="7.4"/><circle cx="900.6" cy="1408.35" r="7.4"/><circle cx="889.03" cy="1423.39" r="7.4"/><circle cx="954.17" cy="1297.88" r="7.4"/><circle cx="887.09" cy="1388.65" r="7.4"/><circle cx="933.65" cy="1330.94" r="7.4"/><circle cx="903.66" cy="1335.59" r="7.4"/><circle cx="903.5" cy="1424.97" r="7.4"/><circle cx="899.65" cy="1505.19" r="7.4"/><circle cx="923.86" cy="1484.01" r="7.4"/><circle cx="895.75" cy="1454.97" r="7.4"/><circle cx="846.35" cy="1471.02" r="7.4"/><circle cx="911.09" cy="1420.31" r="7.4"/><circle cx="892.98" cy="1496.32" r="7.4"/><circle cx="817.98" cy="1444.3" r="7.4"/><circle cx="883.67" cy="1448.25" r="7.4"/><circle cx="851.2" cy="1376.4" r="7.4"/><circle cx="961.26" cy="1468.8" r="7.4"/><circle cx="850.12" cy="1439.47" r="7.4"/><circle cx="866.95" cy="1473.06" r="7.4"/><circle cx="990.77" cy="1410.09" r="7.4"/><circle cx="916.99" cy="1384.46" r="7.4"/><circle cx="892.2" cy="1370.83" r="7.4"/><circle cx="858.01" cy="1341.93" r="7.4"/><circle cx="916.58" cy="1406.76" r="7.4"/><circle cx="931.23" cy="1398.66" r="7.4"/><circle cx="923.1" cy="1290.4" r="7.4"/><circle cx="926.76" cy="1347.18" r="7.4"/><circle cx="867.12" cy="1538.49" r="7.4"/><circle cx="963.18" cy="1443.63" r="7.4"/><circle cx="818.4" cy="1520.8" r="7.4"/><circle cx="910.98" cy="1349.43" r="7.4"/><circle cx="913.23" cy="1429.72" r="7.4"/><circle cx="930.33" cy="1482.46" r="7.4"/><circle cx="968.5" cy="1446.78" r="7.4"/><circle cx="907.25" cy="1358.59" r="7.4"/><circle cx="919.26" cy="1403.81" r="7.4"/><circle cx="1008.8" cy="1368.1" r="7.4"/><circle cx="937.97" cy="1414.14" r="7.4"/><circle cx="945.92" cy="1462.01" r="7.4"/><circle cx="896.38" cy="1355.85" r="7.4"/><circle cx="914.76" cy="1337.56" r="7.4"/><circle cx="963.46" cy="1382.02" r="7.4"/><circle cx="856.64" cy="1474.29" r="7.4"/><circle cx="930.05" cy="1338.28" r="7.4"/><circle cx="925.29" cy="1395.01" r="7.4"/><circle cx="959.45" cy="1446.43" r="7.4"/><circle cx="879.02" cy="1442.91" r="7.4"/><circle cx="930" cy="1415.21" r="7.4"/><circle cx="904.66" cy="1502.31" r="7.4"/><circle cx="842.63" cy="1537.62" r="7.4"/><circle cx="861.23" cy="1467.32" r="7.4"/><circle cx="889.63" cy="1433.25" r="7.4"/><circle cx="863.88" cy="1353.36" r="7.4"/><circle cx="916.21" cy="1441.24" r="7.4"/><circle cx="895.3" cy="1462.55" r="7.4"/><circle cx="916.05" cy="1402" r="7.4"/><circle cx="886.27" cy="1315.34" r="7.4"/><circle cx="949.67" cy="1483.32" r="7.4"/><circle cx="883.81" cy="1463.4" r="7.4"/><circle cx="936.1" cy="1436.65" r="7.4"/><circle cx="943.37" cy="1399.77" r="7.4"/><circle cx="1004" cy="1466.1" r="7.4"/><circle cx="933.75" cy="1465.7" r="7.4"/><circle cx="958.67" cy="1413.91" r="7.4"/><circle cx="905.24" cy="1407.85" r="7.4"/><circle cx="906.67" cy="1339.03" r="7.4"/><circle cx="887.08" cy="1402.94" r="7.4"/><circle cx="992.4" cy="1482.1" r="7.4"/><circle cx="822.83" cy="1425.6" r="7.4"/><circle cx="850.87" cy="1474.95" r="7.4"/><circle cx="933.14" cy="1416.91" r="7.4"/><circle cx="833.92" cy="1432.12" r="7.4"/><circle cx="854.32" cy="1469.79" r="7.4"/><circle cx="920.55" cy="1403.2" r="7.4"/><circle cx="920.99" cy="1433.61" r="7.4"/><circle cx="768.8" cy="1515.2" r="7.4"/><circle cx="924.47" cy="1471.47" r="7.4"/><circle cx="853.84" cy="1478.56" r="7.4"/><circle cx="930.29" cy="1439.57" r="7.4"/><circle cx="947.47" cy="1390.19" r="7.4"/><circle cx="886.33" cy="1469.67" r="7.4"/><circle cx="869.85" cy="1434.91" r="7.4"/><circle cx="866" cy="1542.54" r="7.4"/><circle cx="948.53" cy="1461.03" r="7.4"/><circle cx="872.32" cy="1396.52" r="7.4"/><circle cx="836" cy="1356.4" r="7.4"/><circle cx="937.82" cy="1340.19" r="7.4"/><circle cx="962.56" cy="1399.05" r="7.4"/><circle cx="827.2" cy="1351.6" r="7.4"/><circle cx="815.2" cy="1350" r="7.4"/><circle cx="889.58" cy="1456.61" r="7.4"/><circle cx="873.56" cy="1341.12" r="7.4"/><circle cx="858.83" cy="1474.08" r="7.4"/><circle cx="974.37" cy="1382.85" r="7.4"/><circle cx="847.21" cy="1355.97" r="7.4"/><circle cx="870.61" cy="1471.2" r="7.4"/><circle cx="839.76" cy="1444.23" r="7.4"/><circle cx="885.97" cy="1521.83" r="7.4"/><circle cx="938.08" cy="1446.75" r="7.4"/><circle cx="930.01" cy="1457.92" r="7.4"/><circle cx="843.44" cy="1489.49" r="7.4"/><circle cx="864.86" cy="1413.27" r="7.4"/><circle cx="897.6" cy="1462.55" r="7.4"/><circle cx="890.4" cy="1427.09" r="7.4"/><circle cx="893.94" cy="1307.17" r="7.4"/><circle cx="925.3" cy="1401.56" r="7.4"/><circle cx="978.6" cy="1294.9" r="7.4"/><circle cx="892.38" cy="1434.22" r="7.4"/><circle cx="887.2" cy="1270" r="7.4"/><circle cx="893.13" cy="1446.42" r="7.4"/><circle cx="847.07" cy="1379.59" r="7.4"/><circle cx="889.15" cy="1409.82" r="7.4"/><circle cx="806.83" cy="1448.28" r="7.4"/><circle cx="864.71" cy="1413.81" r="7.4"/><circle cx="870.4" cy="1327.6" r="7.4"/><circle cx="876.08" cy="1385.25" r="7.4"/><circle cx="820.64" cy="1446.8" r="7.4"/><circle cx="906.12" cy="1356.58" r="7.4"/><circle cx="980" cy="1433.8" r="7.4"/><circle cx="836.62" cy="1444.13" r="7.4"/><circle cx="887.26" cy="1383.15" r="7.4"/><circle cx="850.5" cy="1410.72" r="7.4"/><circle cx="913.27" cy="1466.75" r="7.4"/><circle cx="975.6" cy="1470.2" r="7.4"/><circle cx="932.58" cy="1432.3" r="7.4"/><circle cx="943.63" cy="1351.67" r="7.4"/><circle cx="873.83" cy="1380.46" r="7.4"/><circle cx="856" cy="1448.77" r="7.4"/><circle cx="927.65" cy="1460.05" r="7.4"/><circle cx="903.5" cy="1397.08" r="7.4"/><circle cx="895.52" cy="1374.95" r="7.4"/><circle cx="974.75" cy="1330.99" r="7.4"/><circle cx="847.96" cy="1492.33" r="7.4"/><circle cx="886.77" cy="1521.7" r="7.4"/><circle cx="999.6" cy="1472.9" r="7.4"/><circle cx="888.95" cy="1503.23" r="7.4"/><circle cx="904.77" cy="1429.05" r="7.4"/><circle cx="907.54" cy="1443.1" r="7.4"/><circle cx="926.67" cy="1362.35" r="7.4"/><circle cx="909.94" cy="1404.68" r="7.4"/><circle cx="847.01" cy="1533.29" r="7.4"/><circle cx="945.74" cy="1387.08" r="7.4"/><circle cx="982.43" cy="1366.68" r="7.4"/><circle cx="861.93" cy="1483.33" r="7.4"/><circle cx="921.61" cy="1416.55" r="7.4"/><circle cx="896.89" cy="1407.84" r="7.4"/><circle cx="959.2" cy="1294.9" r="7.4"/><circle cx="922.88" cy="1396.23" r="7.4"/><circle cx="937.31" cy="1358.33" r="7.4"/><circle cx="895.92" cy="1474.99" r="7.4"/><circle cx="830.76" cy="1365.95" r="7.4"/><circle cx="945.41" cy="1337.57" r="7.4"/><circle cx="851.8" cy="1384.2" r="7.4"/><circle cx="903.63" cy="1467.29" r="7.4"/><circle cx="851.57" cy="1388.36" r="7.4"/><circle cx="843.93" cy="1467.52" r="7.4"/><circle cx="945.23" cy="1377.27" r="7.4"/><circle cx="901.97" cy="1519.91" r="7.4"/><circle cx="917.91" cy="1414.34" r="7.4"/><circle cx="885.65" cy="1404.07" r="7.4"/><circle cx="873.04" cy="1469.84" r="7.4"/><circle cx="947.93" cy="1449.12" r="7.4"/><circle cx="936.06" cy="1377.25" r="7.4"/><circle cx="882.28" cy="1445.04" r="7.4"/><circle cx="863.72" cy="1503.45" r="7.4"/><circle cx="902.67" cy="1467.08" r="7.4"/><circle cx="944" cy="1418.34" r="7.4"/><circle cx="865.17" cy="1406.72" r="7.4"/><circle cx="920.13" cy="1456.62" r="7.4"/><circle cx="860.48" cy="1409.28" r="7.4"/><circle cx="959.48" cy="1368.67" r="7.4"/><circle cx="897.02" cy="1397.68" r="7.4"/><circle cx="935.54" cy="1436.94" r="7.4"/><circle cx="941.62" cy="1399.56" r="7.4"/><circle cx="901.67" cy="1378.02" r="7.4"/><circle cx="889.74" cy="1340.54" r="7.4"/><circle cx="897.9" cy="1509.42" r="7.4"/><circle cx="967.6" cy="1306.4" r="7.4"/><circle cx="850.1" cy="1457.79" r="7.4"/><circle cx="906.08" cy="1527.98" r="7.4"/><circle cx="884.82" cy="1364.91" r="7.4"/><circle cx="830.47" cy="1454.09" r="7.4"/><circle cx="908.82" cy="1433.84" r="7.4"/><circle cx="925.28" cy="1363.44" r="7.4"/><circle cx="845.81" cy="1483.09" r="7.4"/><circle cx="1026.2" cy="1455.5" r="7.4"/><circle cx="903.82" cy="1411.45" r="7.4"/><circle cx="983.75" cy="1362.89" r="7.4"/><circle cx="829.15" cy="1519.13" r="7.4"/><circle cx="894.79" cy="1432.11" r="7.4"/><circle cx="889.06" cy="1381.57" r="7.4"/><circle cx="877.93" cy="1379.45" r="7.4"/><circle cx="851.21" cy="1385.47" r="7.4"/><circle cx="941.77" cy="1448.82" r="7.4"/><circle cx="929.73" cy="1385.23" r="7.4"/><circle cx="915.63" cy="1380.34" r="7.4"/><circle cx="839.2" cy="1527.2" r="7.4"/><circle cx="861.19" cy="1373.98" r="7.4"/><circle cx="821.55" cy="1476.28" r="7.4"/><circle cx="927.95" cy="1424.71" r="7.4"/><circle cx="829.86" cy="1452.29" r="7.4"/><circle cx="994.2" cy="1387.9" r="7.4"/><circle cx="912.9" cy="1431.45" r="7.4"/><circle cx="916.16" cy="1418.86" r="7.4"/><circle cx="870.49" cy="1427.66" r="7.4"/><circle cx="950.29" cy="1435.55" r="7.4"/><circle cx="881.3" cy="1387.65" r="7.4"/><circle cx="910.9" cy="1270.8" r="7.4"/><circle cx="853.56" cy="1433.28" r="7.4"/><circle cx="962.2" cy="1323.3" r="7.4"/><circle cx="909.35" cy="1413.07" r="7.4"/><circle cx="880.33" cy="1458.32" r="7.4"/><circle cx="913.59" cy="1342.56" r="7.4"/><circle cx="938.8" cy="1459.47" r="7.4"/><circle cx="784" cy="1520.3" r="7.4"/><circle cx="857.03" cy="1486.5" r="7.4"/><circle cx="879.85" cy="1488.04" r="7.4"/><circle cx="833.47" cy="1486.12" r="7.4"/><circle cx="909.76" cy="1334.53" r="7.4"/><circle cx="983.6" cy="1485.3" r="7.4"/><circle cx="938.4" cy="1396.09" r="7.4"/><circle cx="913.52" cy="1326.79" r="7.4"/><circle cx="907.87" cy="1489.27" r="7.4"/><circle cx="883.28" cy="1469.51" r="7.4"/><circle cx="901.07" cy="1440.72" r="7.4"/><circle cx="899.09" cy="1357.6" r="7.4"/><circle cx="847.42" cy="1472.45" r="7.4"/><circle cx="926.43" cy="1409.44" r="7.4"/><circle cx="875.5" cy="1424.23" r="7.4"/><circle cx="894.6" cy="1454.26" r="7.4"/><circle cx="828.8" cy="1527.2" r="7.4"/><circle cx="862.64" cy="1361.05" r="7.4"/><circle cx="983.48" cy="1370.73" r="7.4"/><circle cx="894.52" cy="1458.1" r="7.4"/><circle cx="870.06" cy="1364.11" r="7.4"/><circle cx="855.2" cy="1340.4" r="7.4"/><circle cx="900.35" cy="1390.32" r="7.4"/><circle cx="841.38" cy="1467.42" r="7.4"/><circle cx="937.18" cy="1427.33" r="7.4"/><circle cx="928.11" cy="1413.46" r="7.4"/><circle cx="840.51" cy="1408.62" r="7.4"/><circle cx="900" cy="1289.2" r="7.4"/><circle cx="909.63" cy="1348.04" r="7.4"/><circle cx="904.16" cy="1328.31" r="7.4"/><circle cx="926.75" cy="1456.15" r="7.4"/><circle cx="843.08" cy="1406.43" r="7.4"/><circle cx="907.58" cy="1324.51" r="7.4"/><circle cx="883.39" cy="1482.43" r="7.4"/><circle cx="932.33" cy="1421.9" r="7.4"/><circle cx="947.65" cy="1481.8" r="7.4"/><circle cx="860.77" cy="1432.94" r="7.4"/><circle cx="924.56" cy="1429.3" r="7.4"/><circle cx="948.44" cy="1426.66" r="7.4"/><circle cx="995.1" cy="1461.3" r="7.4"/><circle cx="931.23" cy="1416.67" r="7.4"/><circle cx="906.39" cy="1372.17" r="7.4"/><circle cx="938.66" cy="1417.66" r="7.4"/><circle cx="896.34" cy="1491.11" r="7.4"/><circle cx="882.99" cy="1379.94" r="7.4"/><circle cx="962.5" cy="1436.67" r="7.4"/><circle cx="938.2" cy="1546.1" r="7.4"/><circle cx="923.21" cy="1487.5" r="7.4"/><circle cx="939.32" cy="1468.66" r="7.4"/><circle cx="904.48" cy="1392.68" r="7.4"/><circle cx="980.9" cy="1347.3" r="7.4"/><circle cx="867.66" cy="1437.63" r="7.4"/><circle cx="933.42" cy="1420.91" r="7.4"/><circle cx="872.07" cy="1499.96" r="7.4"/><circle cx="839.51" cy="1482.1" r="7.4"/><circle cx="929.26" cy="1365.06" r="7.4"/><circle cx="894.45" cy="1476.86" r="7.4"/><circle cx="809.18" cy="1440.05" r="7.4"/><circle cx="916.13" cy="1452.22" r="7.4"/><circle cx="875.73" cy="1355.33" r="7.4"/><circle cx="898.67" cy="1405.23" r="7.4"/><circle cx="925.17" cy="1458.27" r="7.4"/><circle cx="939.8" cy="1415.5" r="7.4"/><circle cx="964" cy="1520.9" r="7.4"/><circle cx="974.3" cy="1277.1" r="7.4"/><circle cx="941.86" cy="1332.83" r="7.4"/></g>
<line x1="885.7" y1="1240.2" x2="885.7" y2="1577" stroke="#e20f1d" stroke-width="2.2" stroke-dasharray="9.4 6.6"/>
<rect x="742.9" y="1233.4" width="350.5" height="344.1" fill="none" stroke="#000" stroke-width="1.3"/>
<g stroke="#000" stroke-width="1.3"><line x1="729.5" y1="1310.3" x2="742.9" y2="1310.3"/><line x1="729.5" y1="1437.7" x2="742.9" y2="1437.7"/><line x1="729.5" y1="1565.1" x2="742.9" y2="1565.1"/><line x1="755.9" y1="1577.5" x2="755.9" y2="1591"/><line x1="820.8" y1="1577.5" x2="820.8" y2="1591"/><line x1="885.7" y1="1577.5" x2="885.7" y2="1591"/><line x1="950.6" y1="1577.5" x2="950.6" y2="1591"/><line x1="1015.5" y1="1577.5" x2="1015.5" y2="1591"/><line x1="1080.4" y1="1577.5" x2="1080.4" y2="1591"/></g>
<g transform="translate(655.06,1317.2) scale(1.0400,1)"><path transform="translate(0.00,0) scale(19.600)" d="M0.373,0 L0.285,0 L0.285,-0.539 C0.264,-0.519 0.236,-0.499 0.201,-0.479 C0.167,-0.459 0.136,-0.444 0.109,-0.434 L0.109,-0.517 C0.158,-0.540 0.200,-0.568 0.237,-0.601 C0.273,-0.634 0.299,-0.664 0.314,-0.688 L0.373,-0.688 Z" fill="#000"/><text x="10.90" y="0" font-size="19.60" fill="#000" xml:space="preserve">000.0</text></g>
<g transform="translate(677.72,1444.6) scale(1.0400,1)"><path transform="translate(0.00,0) scale(19.600)" d="M0.373,0 L0.285,0 L0.285,-0.539 C0.264,-0.519 0.236,-0.499 0.201,-0.479 C0.167,-0.459 0.136,-0.444 0.109,-0.434 L0.109,-0.517 C0.158,-0.540 0.200,-0.568 0.237,-0.601 C0.273,-0.634 0.299,-0.664 0.314,-0.688 L0.373,-0.688 Z" fill="#000"/><text x="10.90" y="0" font-size="19.60" fill="#000" xml:space="preserve">0.0</text></g>
<g transform="translate(692,1572) scale(1.0400,1)"><text x="0.00" y="0" font-size="19.60" fill="#000" xml:space="preserve">0.</text><path transform="translate(16.35,0) scale(19.600)" d="M0.373,0 L0.285,0 L0.285,-0.539 C0.264,-0.519 0.236,-0.499 0.201,-0.479 C0.167,-0.459 0.136,-0.444 0.109,-0.434 L0.109,-0.517 C0.158,-0.540 0.200,-0.568 0.237,-0.601 C0.273,-0.634 0.299,-0.664 0.314,-0.688 L0.373,-0.688 Z" fill="#000"/></g>
<g transform="translate(743.2,1623) scale(1.0400,1)"><text x="0.00" y="0" font-size="19.60" fill="#000" xml:space="preserve">0.</text><path transform="translate(16.35,0) scale(19.600)" d="M0.373,0 L0.285,0 L0.285,-0.539 C0.264,-0.519 0.236,-0.499 0.201,-0.479 C0.167,-0.459 0.136,-0.444 0.109,-0.434 L0.109,-0.517 C0.158,-0.540 0.200,-0.568 0.237,-0.601 C0.273,-0.634 0.299,-0.664 0.314,-0.688 L0.373,-0.688 Z" fill="#000"/></g>
<g transform="translate(805.92,1623) scale(1.0400,1)"><path transform="translate(0.00,0) scale(19.600)" d="M0.373,0 L0.285,0 L0.285,-0.539 C0.264,-0.519 0.236,-0.499 0.201,-0.479 C0.167,-0.459 0.136,-0.444 0.109,-0.434 L0.109,-0.517 C0.158,-0.540 0.200,-0.568 0.237,-0.601 C0.273,-0.634 0.299,-0.664 0.314,-0.688 L0.373,-0.688 Z" fill="#000"/><text x="10.90" y="0" font-size="19.60" fill="#000" xml:space="preserve">.0</text></g>
<g transform="translate(865.15,1623) scale(1.0400,1)"><path transform="translate(0.00,0) scale(19.600)" d="M0.373,0 L0.285,0 L0.285,-0.539 C0.264,-0.519 0.236,-0.499 0.201,-0.479 C0.167,-0.459 0.136,-0.444 0.109,-0.434 L0.109,-0.517 C0.158,-0.540 0.200,-0.568 0.237,-0.601 C0.273,-0.634 0.299,-0.664 0.314,-0.688 L0.373,-0.688 Z" fill="#000"/><text x="10.90" y="0" font-size="19.60" fill="#000" xml:space="preserve">0.0</text></g>
<g transform="translate(924.38,1623) scale(1.0400,1)"><path transform="translate(0.00,0) scale(19.600)" d="M0.373,0 L0.285,0 L0.285,-0.539 C0.264,-0.519 0.236,-0.499 0.201,-0.479 C0.167,-0.459 0.136,-0.444 0.109,-0.434 L0.109,-0.517 C0.158,-0.540 0.200,-0.568 0.237,-0.601 C0.273,-0.634 0.299,-0.664 0.314,-0.688 L0.373,-0.688 Z" fill="#000"/><text x="10.90" y="0" font-size="19.60" fill="#000" xml:space="preserve">00.0</text></g>
<g transform="translate(1043.78,1623) scale(1.0300,1)"><path transform="translate(0.00,0) scale(19.771)" d="M0.373,0 L0.285,0 L0.285,-0.539 C0.264,-0.519 0.236,-0.499 0.201,-0.479 C0.167,-0.459 0.136,-0.444 0.109,-0.434 L0.109,-0.517 C0.158,-0.540 0.200,-0.568 0.237,-0.601 C0.273,-0.634 0.299,-0.664 0.314,-0.688 L0.373,-0.688 Z" fill="#000"/><text x="11.00" y="0" font-size="19.77" fill="#000" xml:space="preserve">0000</text></g>
<g transform="translate(735.09,1672.6) scale(1.0308,1)"><text x="0.00" y="0" font-size="26.48" fill="#000" xml:space="preserve">Installed power capacity (MW)</text></g>
<g transform="translate(631.6,1578.4) rotate(-90) scale(0.984,1)"><text x="-2.25" y="0" font-size="27.4" xml:space="preserve">Reservoir surface area </text><text x="282.52" y="0" font-size="33" xml:space="preserve">(</text><text x="293.51" y="0" font-size="27.4" xml:space="preserve">km</text><text x="330.04" y="-13" font-size="19" xml:space="preserve">2</text><text x="340.61" y="0" font-size="33" xml:space="preserve">)</text></g>
</svg></body></html>
